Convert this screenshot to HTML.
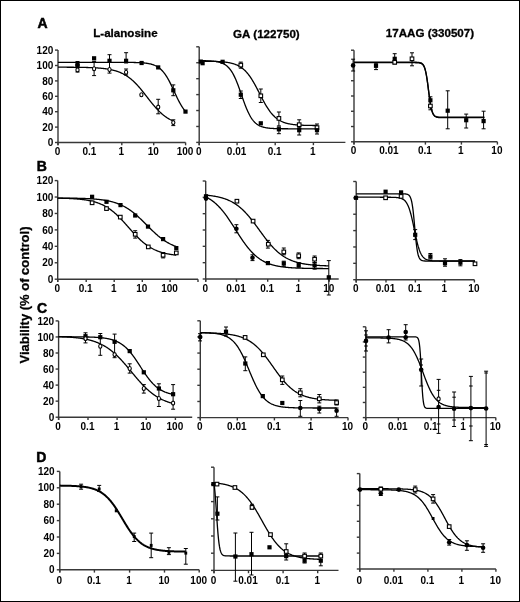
<!DOCTYPE html>
<html><head><meta charset="utf-8"><title>Viability curves</title>
<style>
html,body{margin:0;padding:0;background:#fff;}
body{width:520px;height:602px;overflow:hidden;}
svg{display:block;}
.a{stroke:#383838;stroke-width:1.4;fill:none;}
.c{stroke:#000;stroke-width:1.3;fill:none;}
.e{stroke:#000;stroke-width:1;fill:none;}
.mf{fill:#000;stroke:none;}
.mo{fill:#fff;stroke:#000;stroke-width:1.1;}
.t{font-family:"Liberation Sans",Arial,Helvetica,sans-serif;font-size:10px;font-weight:bold;fill:#000;}
.ti{font-family:"Liberation Sans",Arial,Helvetica,sans-serif;font-size:11.6px;font-weight:bold;fill:#000;stroke:#000;stroke-width:0.3px;}
.L{font-family:"Liberation Sans",Arial,Helvetica,sans-serif;font-size:14px;font-weight:bold;fill:#000;stroke:#000;stroke-width:0.5px;}
.yl{font-family:"Liberation Sans",Arial,Helvetica,sans-serif;font-size:13px;font-weight:bold;fill:#000;stroke:#000;stroke-width:0.3px;}
</style></head>
<body>
<svg width="520" height="602" viewBox="0 0 520 602">
<rect x="0" y="0" width="520" height="602" fill="#fff"/>
<rect x="0.5" y="0.5" width="519" height="601" fill="none" stroke="#000" stroke-width="1"/>
<text x="37.6" y="28.2" class="L">A</text>
<text x="36.8" y="170.5" class="L">B</text>
<text x="37.0" y="313.2" class="L">C</text>
<text x="36.3" y="461.8" class="L">D</text>
<text x="93.2" y="36.9" class="ti">L-alanosine</text>
<text x="233.1" y="37.6" class="ti">GA (122750)</text>
<text x="385.8" y="37.3" class="ti">17AAG (330507)</text>
<text transform="translate(28.7 295) rotate(-90)" class="yl" text-anchor="middle">Viability (% of control)</text>
<line x1="58" y1="50.1" x2="58" y2="145.3" class="a"/>
<line x1="57.4" y1="142.5" x2="185.6" y2="142.5" class="a"/>
<line x1="55" y1="142.50" x2="58" y2="142.50" class="a"/>
<text x="53.30" y="146.10" class="t" text-anchor="end">0</text>
<line x1="55" y1="127.10" x2="58" y2="127.10" class="a"/>
<text x="53.30" y="130.70" class="t" text-anchor="end">20</text>
<line x1="55" y1="111.70" x2="58" y2="111.70" class="a"/>
<text x="53.30" y="115.30" class="t" text-anchor="end">40</text>
<line x1="55" y1="96.30" x2="58" y2="96.30" class="a"/>
<text x="53.30" y="99.90" class="t" text-anchor="end">60</text>
<line x1="55" y1="80.90" x2="58" y2="80.90" class="a"/>
<text x="53.30" y="84.50" class="t" text-anchor="end">80</text>
<line x1="55" y1="65.50" x2="58" y2="65.50" class="a"/>
<text x="53.30" y="69.10" class="t" text-anchor="end">100</text>
<line x1="55" y1="50.10" x2="58" y2="50.10" class="a"/>
<text x="53.30" y="53.70" class="t" text-anchor="end">120</text>
<line x1="58" y1="142.5" x2="58" y2="145.3" class="a"/>
<text x="57.50" y="155.10" class="t" text-anchor="middle">0</text>
<line x1="89.9" y1="142.5" x2="89.9" y2="145.3" class="a"/>
<text x="89.40" y="155.10" class="t" text-anchor="middle">0.1</text>
<line x1="121.8" y1="142.5" x2="121.8" y2="145.3" class="a"/>
<text x="121.30" y="155.10" class="t" text-anchor="middle">1</text>
<line x1="153.7" y1="142.5" x2="153.7" y2="145.3" class="a"/>
<text x="153.20" y="155.10" class="t" text-anchor="middle">10</text>
<line x1="185.6" y1="142.5" x2="185.6" y2="145.3" class="a"/>
<text x="185.10" y="155.10" class="t" text-anchor="middle">100</text>
<path d="M58.0 62.33 L58.5 62.33 L59.0 62.33 L59.5 62.33 L60.0 62.33 L60.5 62.33 L61.0 62.33 L61.5 62.33 L62.0 62.33 L62.5 62.33 L63.0 62.33 L63.5 62.33 L64.0 62.33 L64.5 62.33 L65.0 62.33 L65.5 62.33 L66.0 62.33 L66.5 62.33 L67.0 62.33 L67.5 62.33 L68.0 62.33 L68.5 62.33 L69.0 62.33 L69.5 62.33 L70.0 62.33 L70.5 62.33 L71.0 62.33 L71.5 62.33 L72.0 62.33 L72.5 62.33 L73.0 62.33 L73.5 62.33 L74.0 62.33 L74.5 62.33 L75.0 62.33 L75.5 62.33 L76.0 62.33 L76.5 62.33 L77.0 62.33 L77.5 62.33 L78.0 62.33 L78.5 62.33 L79.0 62.33 L79.5 62.33 L80.0 62.33 L80.5 62.33 L81.0 62.33 L81.5 62.33 L82.0 62.33 L82.5 62.33 L83.0 62.33 L83.5 62.33 L84.0 62.33 L84.5 62.33 L85.0 62.33 L85.5 62.33 L86.0 62.33 L86.5 62.33 L87.0 62.33 L87.5 62.33 L88.0 62.33 L88.5 62.33 L89.0 62.33 L89.5 62.33 L90.0 62.33 L90.5 62.33 L91.0 62.33 L91.5 62.33 L92.0 62.33 L92.5 62.33 L93.0 62.33 L93.5 62.33 L94.0 62.33 L94.5 62.33 L95.0 62.33 L95.5 62.33 L96.0 62.33 L96.5 62.33 L97.0 62.33 L97.5 62.33 L98.0 62.33 L98.5 62.33 L99.0 62.33 L99.5 62.33 L100.0 62.33 L100.5 62.33 L101.0 62.33 L101.5 62.33 L102.0 62.33 L102.5 62.33 L103.0 62.33 L103.5 62.33 L104.0 62.33 L104.5 62.33 L105.0 62.33 L105.5 62.33 L106.0 62.33 L106.5 62.33 L107.0 62.33 L107.5 62.33 L108.0 62.33 L108.5 62.33 L109.0 62.33 L109.5 62.34 L110.0 62.34 L110.5 62.34 L111.0 62.34 L111.5 62.34 L112.0 62.34 L112.5 62.34 L113.0 62.34 L113.5 62.34 L114.0 62.34 L114.5 62.34 L115.0 62.34 L115.5 62.34 L116.0 62.34 L116.5 62.34 L117.0 62.34 L117.5 62.34 L118.0 62.34 L118.5 62.35 L119.0 62.35 L119.5 62.35 L120.0 62.35 L120.5 62.35 L121.0 62.35 L121.5 62.35 L122.0 62.36 L122.5 62.36 L123.0 62.36 L123.5 62.36 L124.0 62.36 L124.5 62.37 L125.0 62.37 L125.5 62.37 L126.0 62.38 L126.5 62.38 L127.0 62.38 L127.5 62.39 L128.0 62.39 L128.5 62.40 L129.0 62.40 L129.5 62.41 L130.0 62.41 L130.5 62.42 L131.0 62.43 L131.5 62.43 L132.0 62.44 L132.5 62.45 L133.0 62.46 L133.5 62.47 L134.0 62.48 L134.5 62.49 L135.0 62.50 L135.5 62.51 L136.0 62.53 L136.5 62.54 L137.0 62.56 L137.5 62.58 L138.0 62.60 L138.5 62.62 L139.0 62.64 L139.5 62.66 L140.0 62.69 L140.5 62.72 L141.0 62.74 L141.5 62.78 L142.0 62.81 L142.5 62.85 L143.0 62.89 L143.5 62.93 L144.0 62.97 L144.5 63.02 L145.0 63.08 L145.5 63.13 L146.0 63.19 L146.5 63.26 L147.0 63.33 L147.5 63.41 L148.0 63.49 L148.5 63.57 L149.0 63.67 L149.5 63.77 L150.0 63.88 L150.5 63.99 L151.0 64.12 L151.5 64.25 L152.0 64.39 L152.5 64.55 L153.0 64.71 L153.5 64.89 L154.0 65.07 L154.5 65.27 L155.0 65.49 L155.5 65.72 L156.0 65.96 L156.5 66.23 L157.0 66.50 L157.5 66.80 L158.0 67.12 L158.5 67.46 L159.0 67.81 L159.5 68.19 L160.0 68.60 L160.5 69.03 L161.0 69.48 L161.5 69.96 L162.0 70.47 L162.5 71.00 L163.0 71.57 L163.5 72.16 L164.0 72.78 L164.5 73.43 L165.0 74.12 L165.5 74.83 L166.0 75.58 L166.5 76.35 L167.0 77.16 L167.5 78.00 L168.0 78.87 L168.5 79.76 L169.0 80.68 L169.5 81.63 L170.0 82.60 L170.5 83.60 L171.0 84.61 L171.5 85.64 L172.0 86.69 L172.5 87.75 L173.0 88.82 L173.5 89.90 L174.0 90.99 L174.5 92.07 L175.0 93.15 L175.5 94.23 L176.0 95.30 L176.5 96.36 L177.0 97.41 L177.5 98.44 L178.0 99.45 L178.5 100.45 L179.0 101.42 L179.5 102.37 L180.0 103.29 L180.5 104.18 L181.0 105.05 L181.5 105.88 L182.0 106.69 L182.5 107.46 L183.0 108.21 L183.5 108.92 L184.0 109.60 L184.5 110.25 L185.0 110.87 L185.5 111.47" class="c"/>
<path d="M58.0 67.20 L58.5 67.20 L59.0 67.20 L59.5 67.20 L60.0 67.20 L60.5 67.20 L61.0 67.20 L61.5 67.21 L62.0 67.21 L62.5 67.21 L63.0 67.21 L63.5 67.21 L64.0 67.21 L64.5 67.22 L65.0 67.22 L65.5 67.22 L66.0 67.22 L66.5 67.22 L67.0 67.23 L67.5 67.23 L68.0 67.23 L68.5 67.24 L69.0 67.24 L69.5 67.24 L70.0 67.24 L70.5 67.25 L71.0 67.25 L71.5 67.25 L72.0 67.26 L72.5 67.26 L73.0 67.27 L73.5 67.27 L74.0 67.28 L74.5 67.28 L75.0 67.29 L75.5 67.29 L76.0 67.30 L76.5 67.30 L77.0 67.31 L77.5 67.31 L78.0 67.32 L78.5 67.33 L79.0 67.33 L79.5 67.34 L80.0 67.35 L80.5 67.36 L81.0 67.36 L81.5 67.37 L82.0 67.38 L82.5 67.39 L83.0 67.40 L83.5 67.41 L84.0 67.42 L84.5 67.43 L85.0 67.44 L85.5 67.46 L86.0 67.47 L86.5 67.48 L87.0 67.50 L87.5 67.51 L88.0 67.52 L88.5 67.54 L89.0 67.56 L89.5 67.57 L90.0 67.59 L90.5 67.61 L91.0 67.63 L91.5 67.65 L92.0 67.67 L92.5 67.69 L93.0 67.72 L93.5 67.74 L94.0 67.76 L94.5 67.79 L95.0 67.82 L95.5 67.85 L96.0 67.88 L96.5 67.91 L97.0 67.94 L97.5 67.97 L98.0 68.01 L98.5 68.05 L99.0 68.08 L99.5 68.12 L100.0 68.16 L100.5 68.21 L101.0 68.25 L101.5 68.30 L102.0 68.35 L102.5 68.40 L103.0 68.45 L103.5 68.51 L104.0 68.57 L104.5 68.63 L105.0 68.69 L105.5 68.76 L106.0 68.83 L106.5 68.90 L107.0 68.97 L107.5 69.05 L108.0 69.13 L108.5 69.21 L109.0 69.30 L109.5 69.39 L110.0 69.49 L110.5 69.58 L111.0 69.69 L111.5 69.79 L112.0 69.90 L112.5 70.02 L113.0 70.14 L113.5 70.27 L114.0 70.40 L114.5 70.53 L115.0 70.67 L115.5 70.82 L116.0 70.97 L116.5 71.12 L117.0 71.29 L117.5 71.46 L118.0 71.63 L118.5 71.82 L119.0 72.00 L119.5 72.20 L120.0 72.40 L120.5 72.62 L121.0 72.83 L121.5 73.06 L122.0 73.29 L122.5 73.54 L123.0 73.79 L123.5 74.05 L124.0 74.32 L124.5 74.59 L125.0 74.88 L125.5 75.17 L126.0 75.48 L126.5 75.80 L127.0 76.12 L127.5 76.45 L128.0 76.80 L128.5 77.16 L129.0 77.52 L129.5 77.90 L130.0 78.28 L130.5 78.68 L131.0 79.09 L131.5 79.51 L132.0 79.94 L132.5 80.38 L133.0 80.83 L133.5 81.29 L134.0 81.76 L134.5 82.25 L135.0 82.74 L135.5 83.24 L136.0 83.76 L136.5 84.28 L137.0 84.81 L137.5 85.36 L138.0 85.91 L138.5 86.47 L139.0 87.04 L139.5 87.62 L140.0 88.20 L140.5 88.79 L141.0 89.39 L141.5 90.00 L142.0 90.61 L142.5 91.23 L143.0 91.86 L143.5 92.48 L144.0 93.12 L144.5 93.75 L145.0 94.39 L145.5 95.03 L146.0 95.67 L146.5 96.32 L147.0 96.96 L147.5 97.60 L148.0 98.25 L148.5 98.89 L149.0 99.53 L149.5 100.17 L150.0 100.80 L150.5 101.43 L151.0 102.06 L151.5 102.68 L152.0 103.30 L152.5 103.91 L153.0 104.51 L153.5 105.11 L154.0 105.70 L154.5 106.29 L155.0 106.86 L155.5 107.43 L156.0 107.99 L156.5 108.54 L157.0 109.08 L157.5 109.61 L158.0 110.13 L158.5 110.64 L159.0 111.14 L159.5 111.63 L160.0 112.11 L160.5 112.58 L161.0 113.03 L161.5 113.48 L162.0 113.92 L162.5 114.35 L163.0 114.76 L163.5 115.17 L164.0 115.56 L164.5 115.94 L165.0 116.32 L165.5 116.68 L166.0 117.03 L166.5 117.37 L167.0 117.70 L167.5 118.03 L168.0 118.34 L168.5 118.64 L169.0 118.93 L169.5 119.22 L170.0 119.49 L170.5 119.76 L171.0 120.01 L171.5 120.26 L172.0 120.50 L172.5 120.73 L173.0 120.96 L173.3 121.09" class="c"/>
<line x1="77.5" y1="61.5" x2="77.5" y2="72" class="e"/>
<line x1="75.5" y1="61.5" x2="79.5" y2="61.5" class="e"/>
<line x1="75.5" y1="72" x2="79.5" y2="72" class="e"/>
<line x1="94.1" y1="61.4" x2="94.1" y2="75.6" class="e"/>
<line x1="92.1" y1="61.4" x2="96.1" y2="61.4" class="e"/>
<line x1="92.1" y1="75.6" x2="96.1" y2="75.6" class="e"/>
<line x1="109.5" y1="54.7" x2="109.5" y2="73.1" class="e"/>
<line x1="107.5" y1="54.7" x2="111.5" y2="54.7" class="e"/>
<line x1="107.5" y1="73.1" x2="111.5" y2="73.1" class="e"/>
<line x1="126.1" y1="52.7" x2="126.1" y2="63" class="e"/>
<line x1="124.1" y1="52.7" x2="128.1" y2="52.7" class="e"/>
<line x1="124.1" y1="63" x2="128.1" y2="63" class="e"/>
<line x1="126.1" y1="69" x2="126.1" y2="75" class="e"/>
<line x1="124.1" y1="69" x2="128.1" y2="69" class="e"/>
<line x1="124.1" y1="75" x2="128.1" y2="75" class="e"/>
<line x1="158.2" y1="99.3" x2="158.2" y2="113.8" class="e"/>
<line x1="156.2" y1="99.3" x2="160.2" y2="99.3" class="e"/>
<line x1="156.2" y1="113.8" x2="160.2" y2="113.8" class="e"/>
<line x1="173.3" y1="84.9" x2="173.3" y2="95.7" class="e"/>
<line x1="171.3" y1="84.9" x2="175.3" y2="84.9" class="e"/>
<line x1="171.3" y1="95.7" x2="175.3" y2="95.7" class="e"/>
<line x1="173.3" y1="119.8" x2="173.3" y2="125.6" class="e"/>
<line x1="171.3" y1="119.8" x2="175.3" y2="119.8" class="e"/>
<line x1="171.3" y1="125.6" x2="175.3" y2="125.6" class="e"/>
<rect x="75.40" y="62.10" width="4.2" height="4.2" class="mf"/>
<rect x="75.40" y="63.90" width="4.2" height="4.2" class="mf"/>
<rect x="92.00" y="56.20" width="4.2" height="4.2" class="mf"/>
<rect x="107.40" y="58.70" width="4.2" height="4.2" class="mf"/>
<rect x="124.00" y="58.70" width="4.2" height="4.2" class="mf"/>
<rect x="139.50" y="60.90" width="4.2" height="4.2" class="mf"/>
<rect x="156.10" y="65.30" width="4.2" height="4.2" class="mf"/>
<rect x="171.20" y="88.20" width="4.2" height="4.2" class="mf"/>
<rect x="183.40" y="109.50" width="4.2" height="4.2" class="mf"/>
<ellipse cx="77.5" cy="69.9" rx="1.6" ry="2.0" class="mo"/>
<ellipse cx="94.1" cy="68.8" rx="1.6" ry="2.0" class="mo"/>
<ellipse cx="109.5" cy="69.5" rx="1.6" ry="2.0" class="mo"/>
<ellipse cx="126.1" cy="72.2" rx="1.6" ry="2.0" class="mo"/>
<ellipse cx="141.4" cy="94.7" rx="1.6" ry="2.0" class="mo"/>
<ellipse cx="158.2" cy="107.1" rx="1.6" ry="2.0" class="mo"/>
<ellipse cx="173.3" cy="122.6" rx="1.6" ry="2.0" class="mo"/>
<line x1="199.2" y1="46.8" x2="199.2" y2="145.20000000000002" class="a"/>
<line x1="198.6" y1="142.4" x2="345.4" y2="142.4" class="a"/>
<line x1="196.2" y1="142.40" x2="199.2" y2="142.40" class="a"/>
<line x1="196.2" y1="126.47" x2="199.2" y2="126.47" class="a"/>
<line x1="196.2" y1="110.53" x2="199.2" y2="110.53" class="a"/>
<line x1="196.2" y1="94.60" x2="199.2" y2="94.60" class="a"/>
<line x1="196.2" y1="78.67" x2="199.2" y2="78.67" class="a"/>
<line x1="196.2" y1="62.73" x2="199.2" y2="62.73" class="a"/>
<line x1="196.2" y1="46.80" x2="199.2" y2="46.80" class="a"/>
<line x1="199.2" y1="142.4" x2="199.2" y2="145.20000000000002" class="a"/>
<text x="198.70" y="155.00" class="t" text-anchor="middle">0</text>
<line x1="237.1" y1="142.4" x2="237.1" y2="145.20000000000002" class="a"/>
<text x="236.60" y="155.00" class="t" text-anchor="middle">0.01</text>
<line x1="275.2" y1="142.4" x2="275.2" y2="145.20000000000002" class="a"/>
<text x="274.70" y="155.00" class="t" text-anchor="middle">0.1</text>
<line x1="313.4" y1="142.4" x2="313.4" y2="145.20000000000002" class="a"/>
<text x="312.90" y="155.00" class="t" text-anchor="middle">1</text>
<path d="M199.2 61.19 L199.7 61.19 L200.2 61.19 L200.7 61.19 L201.2 61.20 L201.7 61.20 L202.2 61.20 L202.7 61.21 L203.2 61.21 L203.7 61.22 L204.2 61.22 L204.7 61.23 L205.2 61.23 L205.7 61.24 L206.2 61.24 L206.7 61.25 L207.2 61.26 L207.7 61.26 L208.2 61.27 L208.7 61.28 L209.2 61.29 L209.7 61.30 L210.2 61.30 L210.7 61.31 L211.2 61.33 L211.7 61.34 L212.2 61.35 L212.7 61.36 L213.2 61.38 L213.7 61.39 L214.2 61.41 L214.7 61.42 L215.2 61.44 L215.7 61.46 L216.2 61.48 L216.7 61.50 L217.2 61.52 L217.7 61.54 L218.2 61.57 L218.7 61.60 L219.2 61.62 L219.7 61.65 L220.2 61.69 L220.7 61.72 L221.2 61.75 L221.7 61.79 L222.2 61.83 L222.7 61.88 L223.2 61.92 L223.7 61.97 L224.2 62.02 L224.7 62.07 L225.2 62.13 L225.7 62.19 L226.2 62.26 L226.7 62.33 L227.2 62.40 L227.7 62.47 L228.2 62.56 L228.7 62.64 L229.2 62.73 L229.7 62.83 L230.2 62.93 L230.7 63.04 L231.2 63.16 L231.7 63.28 L232.2 63.41 L232.7 63.55 L233.2 63.69 L233.7 63.84 L234.2 64.00 L234.7 64.17 L235.2 64.35 L235.7 64.55 L236.2 64.75 L236.7 64.96 L237.2 65.18 L237.7 65.42 L238.2 65.67 L238.7 65.93 L239.2 66.20 L239.7 66.49 L240.2 66.80 L240.7 67.12 L241.2 67.46 L241.7 67.81 L242.2 68.18 L242.7 68.57 L243.2 68.98 L243.7 69.41 L244.2 69.86 L244.7 70.33 L245.2 70.81 L245.7 71.32 L246.2 71.85 L246.7 72.41 L247.2 72.98 L247.7 73.58 L248.2 74.20 L248.7 74.84 L249.2 75.51 L249.7 76.20 L250.2 76.91 L250.7 77.64 L251.2 78.40 L251.7 79.18 L252.2 79.98 L252.7 80.79 L253.2 81.63 L253.7 82.49 L254.2 83.36 L254.7 84.26 L255.2 85.16 L255.7 86.08 L256.2 87.02 L256.7 87.96 L257.2 88.92 L257.7 89.88 L258.2 90.85 L258.7 91.82 L259.2 92.80 L259.7 93.78 L260.2 94.75 L260.7 95.73 L261.2 96.70 L261.7 97.66 L262.2 98.62 L262.7 99.56 L263.2 100.50 L263.7 101.42 L264.2 102.33 L264.7 103.23 L265.2 104.10 L265.7 104.96 L266.2 105.80 L266.7 106.63 L267.2 107.43 L267.7 108.21 L268.2 108.97 L268.7 109.70 L269.2 110.42 L269.7 111.11 L270.2 111.78 L270.7 112.43 L271.2 113.05 L271.7 113.65 L272.2 114.23 L272.7 114.79 L273.2 115.32 L273.7 115.83 L274.2 116.32 L274.7 116.80 L275.2 117.25 L275.7 117.68 L276.2 118.09 L276.7 118.48 L277.2 118.85 L277.7 119.21 L278.2 119.55 L278.7 119.87 L279.2 120.18 L279.7 120.47 L280.2 120.75 L280.7 121.02 L281.2 121.27 L281.7 121.50 L282.2 121.73 L282.7 121.94 L283.2 122.15 L283.7 122.34 L284.2 122.52 L284.7 122.69 L285.2 122.85 L285.7 123.01 L286.2 123.15 L286.7 123.29 L287.2 123.42 L287.7 123.54 L288.2 123.66 L288.7 123.77 L289.2 123.87 L289.7 123.97 L290.2 124.06 L290.7 124.15 L291.2 124.23 L291.7 124.31 L292.2 124.38 L292.7 124.45 L293.2 124.52 L293.7 124.58 L294.2 124.64 L294.7 124.69 L295.2 124.74 L295.7 124.79 L296.2 124.84 L296.7 124.88 L297.2 124.92 L297.7 124.96 L298.2 125.00 L298.7 125.03 L299.2 125.06 L299.7 125.09 L300.2 125.12 L300.7 125.15 L301.2 125.17 L301.7 125.20 L302.2 125.22 L302.7 125.24 L303.2 125.26 L303.7 125.28 L304.2 125.30 L304.7 125.31 L305.2 125.33 L305.7 125.34 L306.2 125.36 L306.7 125.37 L307.2 125.38 L307.7 125.39 L308.2 125.40 L308.7 125.41 L309.2 125.42 L309.7 125.43 L310.2 125.44 L310.7 125.45 L311.2 125.46 L311.7 125.46 L312.2 125.47 L312.7 125.48 L313.2 125.48 L313.7 125.49 L314.2 125.49 L314.7 125.50 L315.2 125.50 L315.7 125.51 L316.2 125.51 L316.7 125.52 L317.0 125.52" class="c"/>
<path d="M199.2 60.66 L199.7 60.66 L200.2 60.67 L200.7 60.67 L201.2 60.68 L201.7 60.68 L202.2 60.69 L202.7 60.70 L203.2 60.71 L203.7 60.72 L204.2 60.73 L204.7 60.74 L205.2 60.75 L205.7 60.76 L206.2 60.78 L206.7 60.79 L207.2 60.81 L207.7 60.83 L208.2 60.85 L208.7 60.87 L209.2 60.89 L209.7 60.92 L210.2 60.95 L210.7 60.98 L211.2 61.01 L211.7 61.05 L212.2 61.09 L212.7 61.13 L213.2 61.17 L213.7 61.22 L214.2 61.28 L214.7 61.34 L215.2 61.40 L215.7 61.47 L216.2 61.55 L216.7 61.63 L217.2 61.72 L217.7 61.82 L218.2 61.92 L218.7 62.04 L219.2 62.16 L219.7 62.29 L220.2 62.44 L220.7 62.59 L221.2 62.76 L221.7 62.95 L222.2 63.15 L222.7 63.36 L223.2 63.60 L223.7 63.85 L224.2 64.12 L224.7 64.41 L225.2 64.73 L225.7 65.07 L226.2 65.43 L226.7 65.82 L227.2 66.25 L227.7 66.70 L228.2 67.19 L228.7 67.71 L229.2 68.26 L229.7 68.85 L230.2 69.49 L230.7 70.16 L231.2 70.88 L231.7 71.63 L232.2 72.44 L232.7 73.29 L233.2 74.18 L233.7 75.12 L234.2 76.11 L234.7 77.15 L235.2 78.23 L235.7 79.36 L236.2 80.53 L236.7 81.74 L237.2 82.99 L237.7 84.28 L238.2 85.60 L238.7 86.95 L239.2 88.33 L239.7 89.73 L240.2 91.14 L240.7 92.57 L241.2 94.01 L241.7 95.45 L242.2 96.89 L242.7 98.32 L243.2 99.73 L243.7 101.13 L244.2 102.51 L244.7 103.86 L245.2 105.18 L245.7 106.47 L246.2 107.72 L246.7 108.93 L247.2 110.09 L247.7 111.22 L248.2 112.30 L248.7 113.33 L249.2 114.32 L249.7 115.26 L250.2 116.15 L250.7 117.00 L251.2 117.80 L251.7 118.56 L252.2 119.27 L252.7 119.94 L253.2 120.57 L253.7 121.17 L254.2 121.72 L254.7 122.24 L255.2 122.72 L255.7 123.17 L256.2 123.59 L256.7 123.99 L257.2 124.35 L257.7 124.69 L258.2 125.00 L258.7 125.30 L259.2 125.57 L259.7 125.82 L260.2 126.05 L260.7 126.26 L261.2 126.46 L261.7 126.65 L262.2 126.81 L262.7 126.97 L263.2 127.12 L263.7 127.25 L264.2 127.37 L264.7 127.49 L265.2 127.59 L265.7 127.69 L266.2 127.78 L266.7 127.86 L267.2 127.93 L267.7 128.00 L268.2 128.07 L268.7 128.13 L269.2 128.18 L269.7 128.23 L270.2 128.28 L270.7 128.32 L271.2 128.36 L271.7 128.39 L272.2 128.43 L272.7 128.46 L273.2 128.48 L273.7 128.51 L274.2 128.53 L274.7 128.55 L275.2 128.57 L275.7 128.59 L276.2 128.61 L276.7 128.63 L277.2 128.64 L277.7 128.65 L278.2 128.66 L278.7 128.68 L279.2 128.69 L279.7 128.70 L280.2 128.70 L280.7 128.71 L281.2 128.72 L281.7 128.73 L282.2 128.73 L282.7 128.74 L283.2 128.74 L283.7 128.75 L284.2 128.75 L284.7 128.76 L285.2 128.76 L285.7 128.76 L286.2 128.77 L286.7 128.77 L287.2 128.77 L287.7 128.77 L288.2 128.78 L288.7 128.78 L289.2 128.78 L289.7 128.78 L290.2 128.78 L290.7 128.78 L291.2 128.79 L291.7 128.79 L292.2 128.79 L292.7 128.79 L293.2 128.79 L293.7 128.79 L294.2 128.79 L294.7 128.79 L295.2 128.79 L295.7 128.79 L296.2 128.79 L296.7 128.80 L297.2 128.80 L297.7 128.80 L298.2 128.80 L298.7 128.80 L299.2 128.80 L299.7 128.80 L300.2 128.80 L300.7 128.80 L301.2 128.80 L301.7 128.80 L302.2 128.80 L302.7 128.80 L303.2 128.80 L303.7 128.80 L304.2 128.80 L304.7 128.80 L305.2 128.80 L305.7 128.80 L306.2 128.80 L306.7 128.80 L307.2 128.80 L307.7 128.80 L308.2 128.80 L308.7 128.80 L309.2 128.80 L309.7 128.80 L310.2 128.80 L310.7 128.80 L311.2 128.80 L311.7 128.80 L312.2 128.80 L312.7 128.80 L313.2 128.80 L313.7 128.80 L314.2 128.80 L314.7 128.80 L315.2 128.80 L315.7 128.80 L316.2 128.80 L316.7 128.80 L317.0 128.80" class="c"/>
<line x1="240.8" y1="62.1" x2="240.8" y2="68.2" class="e"/>
<line x1="238.8" y1="62.1" x2="242.8" y2="62.1" class="e"/>
<line x1="238.8" y1="68.2" x2="242.8" y2="68.2" class="e"/>
<line x1="240.8" y1="91" x2="240.8" y2="98.5" class="e"/>
<line x1="238.8" y1="91" x2="242.8" y2="91" class="e"/>
<line x1="238.8" y1="98.5" x2="242.8" y2="98.5" class="e"/>
<line x1="260.8" y1="89" x2="260.8" y2="102.5" class="e"/>
<line x1="258.8" y1="89" x2="262.8" y2="89" class="e"/>
<line x1="258.8" y1="102.5" x2="262.8" y2="102.5" class="e"/>
<line x1="278.9" y1="112" x2="278.9" y2="125.9" class="e"/>
<line x1="276.9" y1="112" x2="280.9" y2="112" class="e"/>
<line x1="276.9" y1="125.9" x2="280.9" y2="125.9" class="e"/>
<line x1="278.9" y1="127" x2="278.9" y2="133.7" class="e"/>
<line x1="276.9" y1="127" x2="280.9" y2="127" class="e"/>
<line x1="276.9" y1="133.7" x2="280.9" y2="133.7" class="e"/>
<line x1="299.2" y1="119.8" x2="299.2" y2="128" class="e"/>
<line x1="297.2" y1="119.8" x2="301.2" y2="119.8" class="e"/>
<line x1="297.2" y1="128" x2="301.2" y2="128" class="e"/>
<line x1="299.2" y1="128" x2="299.2" y2="135" class="e"/>
<line x1="297.2" y1="128" x2="301.2" y2="128" class="e"/>
<line x1="297.2" y1="135" x2="301.2" y2="135" class="e"/>
<line x1="317" y1="124" x2="317" y2="134" class="e"/>
<line x1="315" y1="124" x2="319" y2="124" class="e"/>
<line x1="315" y1="134" x2="319" y2="134" class="e"/>
<rect x="198.70" y="59.50" width="4.2" height="4.2" class="mf"/>
<rect x="200.50" y="61.10" width="4.2" height="4.2" class="mf"/>
<rect x="220.50" y="59.70" width="4.2" height="4.2" class="mf"/>
<rect x="239.00" y="63.30" width="3.6" height="3.6" class="mo"/>
<rect x="238.70" y="92.60" width="4.2" height="4.2" class="mf"/>
<rect x="259.00" y="94.00" width="3.6" height="3.6" class="mo"/>
<rect x="258.70" y="121.20" width="4.2" height="4.2" class="mf"/>
<rect x="277.10" y="116.60" width="3.6" height="3.6" class="mo"/>
<rect x="276.80" y="127.20" width="4.2" height="4.2" class="mf"/>
<rect x="297.40" y="122.90" width="3.6" height="3.6" class="mo"/>
<rect x="297.10" y="128.10" width="4.2" height="4.2" class="mf"/>
<rect x="315.20" y="125.80" width="3.6" height="3.6" class="mo"/>
<rect x="314.90" y="128.10" width="4.2" height="4.2" class="mf"/>
<line x1="354" y1="50.2" x2="354" y2="144.60000000000002" class="a"/>
<line x1="353.4" y1="141.8" x2="497.4" y2="141.8" class="a"/>
<line x1="351" y1="141.80" x2="354" y2="141.80" class="a"/>
<line x1="351" y1="126.53" x2="354" y2="126.53" class="a"/>
<line x1="351" y1="111.27" x2="354" y2="111.27" class="a"/>
<line x1="351" y1="96.00" x2="354" y2="96.00" class="a"/>
<line x1="351" y1="80.73" x2="354" y2="80.73" class="a"/>
<line x1="351" y1="65.47" x2="354" y2="65.47" class="a"/>
<line x1="351" y1="50.20" x2="354" y2="50.20" class="a"/>
<line x1="354" y1="141.8" x2="354" y2="144.60000000000002" class="a"/>
<text x="353.50" y="154.40" class="t" text-anchor="middle">0</text>
<line x1="389.4" y1="141.8" x2="389.4" y2="144.60000000000002" class="a"/>
<text x="388.90" y="154.40" class="t" text-anchor="middle">0.01</text>
<line x1="425.4" y1="141.8" x2="425.4" y2="144.60000000000002" class="a"/>
<text x="424.90" y="154.40" class="t" text-anchor="middle">0.1</text>
<line x1="461.4" y1="141.8" x2="461.4" y2="144.60000000000002" class="a"/>
<text x="460.90" y="154.40" class="t" text-anchor="middle">1</text>
<line x1="497.4" y1="141.8" x2="497.4" y2="144.60000000000002" class="a"/>
<text x="496.90" y="154.40" class="t" text-anchor="middle">10</text>
<path d="M354.0 62.22 L354.5 62.22 L355.0 62.22 L355.5 62.22 L356.0 62.22 L356.5 62.22 L357.0 62.22 L357.5 62.22 L358.0 62.22 L358.5 62.22 L359.0 62.22 L359.5 62.22 L360.0 62.22 L360.5 62.22 L361.0 62.22 L361.5 62.22 L362.0 62.22 L362.5 62.22 L363.0 62.22 L363.5 62.22 L364.0 62.22 L364.5 62.22 L365.0 62.22 L365.5 62.22 L366.0 62.22 L366.5 62.22 L367.0 62.22 L367.5 62.22 L368.0 62.22 L368.5 62.22 L369.0 62.22 L369.5 62.22 L370.0 62.22 L370.5 62.22 L371.0 62.22 L371.5 62.22 L372.0 62.22 L372.5 62.22 L373.0 62.22 L373.5 62.22 L374.0 62.22 L374.5 62.22 L375.0 62.22 L375.5 62.22 L376.0 62.22 L376.5 62.22 L377.0 62.22 L377.5 62.22 L378.0 62.22 L378.5 62.22 L379.0 62.22 L379.5 62.22 L380.0 62.22 L380.5 62.22 L381.0 62.22 L381.5 62.22 L382.0 62.22 L382.5 62.22 L383.0 62.22 L383.5 62.22 L384.0 62.22 L384.5 62.22 L385.0 62.22 L385.5 62.22 L386.0 62.22 L386.5 62.22 L387.0 62.22 L387.5 62.22 L388.0 62.22 L388.5 62.22 L389.0 62.22 L389.5 62.22 L390.0 62.22 L390.5 62.22 L391.0 62.22 L391.5 62.22 L392.0 62.22 L392.5 62.22 L393.0 62.22 L393.5 62.22 L394.0 62.22 L394.5 62.22 L395.0 62.22 L395.5 62.22 L396.0 62.22 L396.5 62.22 L397.0 62.22 L397.5 62.22 L398.0 62.22 L398.5 62.22 L399.0 62.22 L399.5 62.22 L400.0 62.22 L400.5 62.22 L401.0 62.22 L401.5 62.22 L402.0 62.22 L402.5 62.22 L403.0 62.22 L403.5 62.22 L404.0 62.22 L404.5 62.22 L405.0 62.22 L405.5 62.22 L406.0 62.22 L406.5 62.22 L407.0 62.22 L407.5 62.22 L408.0 62.22 L408.5 62.22 L409.0 62.22 L409.5 62.22 L410.0 62.22 L410.5 62.22 L411.0 62.22 L411.5 62.22 L412.0 62.22 L412.5 62.22 L413.0 62.22 L413.5 62.23 L414.0 62.23 L414.5 62.23 L415.0 62.24 L415.5 62.25 L416.0 62.26 L416.5 62.27 L417.0 62.29 L417.5 62.31 L418.0 62.35 L418.5 62.39 L419.0 62.45 L419.5 62.53 L420.0 62.63 L420.5 62.77 L421.0 62.95 L421.5 63.19 L422.0 63.50 L422.5 63.92 L423.0 64.46 L423.5 65.17 L424.0 66.08 L424.5 67.25 L425.0 68.73 L425.5 70.57 L426.0 72.82 L426.5 75.50 L427.0 78.61 L427.5 82.09 L428.0 85.87 L428.5 89.80 L429.0 93.72 L429.5 97.48 L430.0 100.96 L430.5 104.05 L431.0 106.71 L431.5 108.93 L432.0 110.76 L432.5 112.22 L433.0 113.38 L433.5 114.29 L434.0 114.99 L434.5 115.52 L435.0 115.93 L435.5 116.24 L436.0 116.48 L436.5 116.66 L437.0 116.79 L437.5 116.90 L438.0 116.97 L438.5 117.03 L439.0 117.07 L439.5 117.10 L440.0 117.13 L440.5 117.15 L441.0 117.16 L441.5 117.17 L442.0 117.18 L442.5 117.18 L443.0 117.19 L443.5 117.19 L444.0 117.19 L444.5 117.20 L445.0 117.20 L445.5 117.20 L446.0 117.20 L446.5 117.20 L447.0 117.20 L447.5 117.20 L448.0 117.20 L448.5 117.20 L449.0 117.20 L449.5 117.20 L450.0 117.20 L450.5 117.20 L451.0 117.20 L451.5 117.20 L452.0 117.20 L452.5 117.20 L453.0 117.20 L453.5 117.20 L454.0 117.20 L454.5 117.20 L455.0 117.20 L455.5 117.20 L456.0 117.20 L456.5 117.20 L457.0 117.20 L457.5 117.20 L458.0 117.20 L458.5 117.20 L459.0 117.20 L459.5 117.20 L460.0 117.20 L460.5 117.20 L461.0 117.20 L461.5 117.20 L462.0 117.20 L462.5 117.20 L463.0 117.20 L463.5 117.20 L464.0 117.20 L464.5 117.20 L465.0 117.20 L465.5 117.20 L466.0 117.20 L466.5 117.20 L467.0 117.20 L467.5 117.20 L468.0 117.20 L468.5 117.20 L469.0 117.20 L469.5 117.20 L470.0 117.20 L470.5 117.20 L471.0 117.20 L471.5 117.20 L472.0 117.20 L472.5 117.20 L473.0 117.20 L473.5 117.20 L474.0 117.20 L474.5 117.20 L475.0 117.20 L475.5 117.20 L476.0 117.20 L476.5 117.20 L477.0 117.20 L477.5 117.20 L478.0 117.20 L478.5 117.20 L479.0 117.20 L479.5 117.20 L480.0 117.20 L480.5 117.20 L481.0 117.20 L481.5 117.20 L482.0 117.20 L482.5 117.20 L483.0 117.20 L483.5 117.20 L484.0 117.20 L484.4 117.20" class="c"/>
<path d="M354.0 62.70 L354.5 62.70 L355.0 62.70 L355.5 62.70 L356.0 62.70 L356.5 62.70 L357.0 62.70 L357.5 62.70 L358.0 62.70 L358.5 62.70 L359.0 62.70 L359.5 62.70 L360.0 62.70 L360.5 62.70 L361.0 62.70 L361.5 62.70 L362.0 62.70 L362.5 62.70 L363.0 62.70 L363.5 62.70 L364.0 62.70 L364.5 62.70 L365.0 62.70 L365.5 62.70 L366.0 62.70 L366.5 62.70 L367.0 62.70 L367.5 62.70 L368.0 62.70 L368.5 62.70 L369.0 62.70 L369.5 62.70 L370.0 62.70 L370.5 62.70 L371.0 62.70 L371.5 62.70 L372.0 62.70 L372.5 62.70 L373.0 62.70 L373.5 62.70 L374.0 62.70 L374.5 62.70 L375.0 62.70 L375.5 62.70 L376.0 62.70 L376.5 62.70 L377.0 62.70 L377.5 62.70 L378.0 62.70 L378.5 62.70 L379.0 62.70 L379.5 62.70 L380.0 62.70 L380.5 62.70 L381.0 62.70 L381.5 62.70 L382.0 62.70 L382.5 62.70 L383.0 62.70 L383.5 62.70 L384.0 62.70 L384.5 62.70 L385.0 62.70 L385.5 62.70 L386.0 62.70 L386.5 62.70 L387.0 62.70 L387.5 62.70 L388.0 62.70 L388.5 62.70 L389.0 62.70 L389.5 62.70 L390.0 62.70 L390.5 62.70 L391.0 62.70 L391.5 62.70 L392.0 62.70 L392.5 62.70 L393.0 62.70 L393.5 62.70 L394.0 62.70 L394.5 62.70 L395.0 62.70 L395.5 62.70 L396.0 62.70 L396.5 62.70 L397.0 62.70 L397.5 62.70 L398.0 62.70 L398.5 62.70 L399.0 62.70 L399.5 62.70 L400.0 62.70 L400.5 62.70 L401.0 62.70 L401.5 62.70 L402.0 62.70 L402.5 62.70 L403.0 62.70 L403.5 62.70 L404.0 62.70 L404.5 62.70 L405.0 62.70 L405.5 62.70 L406.0 62.70 L406.5 62.70 L407.0 62.70 L407.5 62.70 L408.0 62.70 L408.5 62.70 L409.0 62.70 L409.5 62.70 L410.0 62.70 L410.5 62.70 L411.0 62.70 L411.5 62.70 L412.0 62.70 L412.5 62.70 L413.0 62.70 L413.5 62.71 L414.0 62.71 L414.5 62.71 L415.0 62.72 L415.5 62.73 L416.0 62.74 L416.5 62.75 L417.0 62.77 L417.5 62.80 L418.0 62.83 L418.5 62.87 L419.0 62.93 L419.5 63.01 L420.0 63.11 L420.5 63.25 L421.0 63.43 L421.5 63.67 L422.0 63.99 L422.5 64.41 L423.0 64.95 L423.5 65.66 L424.0 66.58 L424.5 67.76 L425.0 69.24 L425.5 71.09 L426.0 73.34 L426.5 76.03 L427.0 79.14 L427.5 82.63 L428.0 86.41 L428.5 90.33 L429.0 94.25 L429.5 98.01 L430.0 101.48 L430.5 104.56 L431.0 107.21 L431.5 109.43 L432.0 111.25 L432.5 112.70 L433.0 113.86 L433.5 114.76 L434.0 115.46 L434.5 115.99 L435.0 116.40 L435.5 116.71 L436.0 116.94 L436.5 117.12 L437.0 117.26 L437.5 117.36 L438.0 117.43 L438.5 117.49 L439.0 117.53 L439.5 117.57 L440.0 117.59 L440.5 117.61 L441.0 117.62 L441.5 117.63 L442.0 117.64 L442.5 117.65 L443.0 117.65 L443.5 117.65 L444.0 117.66 L444.5 117.66 L445.0 117.66 L445.5 117.66 L446.0 117.66 L446.5 117.66 L447.0 117.66 L447.5 117.66 L448.0 117.66 L448.5 117.66 L449.0 117.66 L449.5 117.66 L450.0 117.66 L450.5 117.66 L451.0 117.66 L451.5 117.66 L452.0 117.66 L452.5 117.66 L453.0 117.66 L453.5 117.66 L454.0 117.66 L454.5 117.66 L455.0 117.66 L455.5 117.66 L456.0 117.66 L456.5 117.66 L457.0 117.66 L457.5 117.66 L458.0 117.66 L458.5 117.66 L459.0 117.66 L459.5 117.66 L460.0 117.66 L460.5 117.66 L461.0 117.66 L461.5 117.66 L462.0 117.66 L462.5 117.66 L463.0 117.66 L463.5 117.66 L464.0 117.66 L464.5 117.66 L465.0 117.66 L465.5 117.66 L466.0 117.66 L466.5 117.66 L467.0 117.66 L467.5 117.66 L468.0 117.66 L468.5 117.66 L469.0 117.66 L469.5 117.66 L470.0 117.66 L470.5 117.66 L471.0 117.66 L471.5 117.66 L472.0 117.66 L472.5 117.66 L473.0 117.66 L473.5 117.66 L474.0 117.66 L474.5 117.66 L475.0 117.66 L475.5 117.66 L476.0 117.66 L476.5 117.66 L477.0 117.66 L477.5 117.66 L478.0 117.66 L478.5 117.66 L479.0 117.66 L479.5 117.66 L480.0 117.66 L480.5 117.66 L481.0 117.66 L481.5 117.66 L482.0 117.66 L482.5 117.66 L483.0 117.66 L483.5 117.66 L484.0 117.66 L484.4 117.66" class="c"/>
<line x1="353.1" y1="59.2" x2="353.1" y2="71" class="e"/>
<line x1="351.1" y1="59.2" x2="355.1" y2="59.2" class="e"/>
<line x1="351.1" y1="71" x2="355.1" y2="71" class="e"/>
<line x1="376" y1="63.2" x2="376" y2="69.6" class="e"/>
<line x1="374" y1="63.2" x2="378" y2="63.2" class="e"/>
<line x1="374" y1="69.6" x2="378" y2="69.6" class="e"/>
<line x1="394.7" y1="53.7" x2="394.7" y2="64" class="e"/>
<line x1="392.7" y1="53.7" x2="396.7" y2="53.7" class="e"/>
<line x1="392.7" y1="64" x2="396.7" y2="64" class="e"/>
<line x1="412" y1="52.8" x2="412" y2="65.8" class="e"/>
<line x1="410" y1="52.8" x2="414" y2="52.8" class="e"/>
<line x1="410" y1="65.8" x2="414" y2="65.8" class="e"/>
<line x1="430.4" y1="96.8" x2="430.4" y2="109.8" class="e"/>
<line x1="428.4" y1="96.8" x2="432.4" y2="96.8" class="e"/>
<line x1="428.4" y1="109.8" x2="432.4" y2="109.8" class="e"/>
<line x1="447.7" y1="90.8" x2="447.7" y2="128.8" class="e"/>
<line x1="445.7" y1="90.8" x2="449.7" y2="90.8" class="e"/>
<line x1="445.7" y1="128.8" x2="449.7" y2="128.8" class="e"/>
<line x1="466.2" y1="114.1" x2="466.2" y2="128" class="e"/>
<line x1="464.2" y1="114.1" x2="468.2" y2="114.1" class="e"/>
<line x1="464.2" y1="128" x2="468.2" y2="128" class="e"/>
<line x1="483.6" y1="111.2" x2="483.6" y2="128.8" class="e"/>
<line x1="481.6" y1="111.2" x2="485.6" y2="111.2" class="e"/>
<line x1="481.6" y1="128.8" x2="485.6" y2="128.8" class="e"/>
<circle cx="353.1" cy="65.4" r="2.3" class="mf"/>
<rect x="373.90" y="63.70" width="4.2" height="4.2" class="mf"/>
<rect x="392.60" y="56.70" width="4.2" height="4.2" class="mf"/>
<rect x="392.90" y="60.50" width="3.6" height="3.6" class="mo"/>
<rect x="410.20" y="57.00" width="3.6" height="3.6" class="mo"/>
<rect x="428.30" y="98.20" width="4.2" height="4.2" class="mf"/>
<rect x="428.60" y="104.20" width="3.6" height="3.6" class="mo"/>
<rect x="445.60" y="108.60" width="4.2" height="4.2" class="mf"/>
<rect x="464.10" y="118.10" width="4.2" height="4.2" class="mf"/>
<rect x="481.50" y="119.00" width="4.2" height="4.2" class="mf"/>
<line x1="57.7" y1="180.6" x2="57.7" y2="282.0" class="a"/>
<line x1="57.1" y1="279.2" x2="198" y2="279.2" class="a"/>
<line x1="54.7" y1="279.20" x2="57.7" y2="279.20" class="a"/>
<text x="53.30" y="282.80" class="t" text-anchor="end">0</text>
<line x1="54.7" y1="262.77" x2="57.7" y2="262.77" class="a"/>
<text x="53.30" y="266.37" class="t" text-anchor="end">20</text>
<line x1="54.7" y1="246.33" x2="57.7" y2="246.33" class="a"/>
<text x="53.30" y="249.93" class="t" text-anchor="end">40</text>
<line x1="54.7" y1="229.90" x2="57.7" y2="229.90" class="a"/>
<text x="53.30" y="233.50" class="t" text-anchor="end">60</text>
<line x1="54.7" y1="213.47" x2="57.7" y2="213.47" class="a"/>
<text x="53.30" y="217.07" class="t" text-anchor="end">80</text>
<line x1="54.7" y1="197.03" x2="57.7" y2="197.03" class="a"/>
<text x="53.30" y="200.63" class="t" text-anchor="end">100</text>
<line x1="54.7" y1="180.60" x2="57.7" y2="180.60" class="a"/>
<text x="53.30" y="184.20" class="t" text-anchor="end">120</text>
<line x1="57.7" y1="279.2" x2="57.7" y2="282.0" class="a"/>
<text x="57.20" y="291.80" class="t" text-anchor="middle">0</text>
<line x1="86.2" y1="279.2" x2="86.2" y2="282.0" class="a"/>
<text x="85.70" y="291.80" class="t" text-anchor="middle">0.1</text>
<line x1="114.2" y1="279.2" x2="114.2" y2="282.0" class="a"/>
<text x="113.70" y="291.80" class="t" text-anchor="middle">1</text>
<line x1="142.3" y1="279.2" x2="142.3" y2="282.0" class="a"/>
<text x="141.80" y="291.80" class="t" text-anchor="middle">10</text>
<line x1="170.1" y1="279.2" x2="170.1" y2="282.0" class="a"/>
<text x="169.60" y="291.80" class="t" text-anchor="middle">100</text>
<line x1="198" y1="279.2" x2="198" y2="282.0" class="a"/>
<path d="M57.7 198.03 L58.2 198.03 L58.7 198.03 L59.2 198.04 L59.7 198.04 L60.2 198.04 L60.7 198.05 L61.2 198.05 L61.7 198.05 L62.2 198.06 L62.7 198.06 L63.2 198.06 L63.7 198.07 L64.2 198.07 L64.7 198.08 L65.2 198.08 L65.7 198.09 L66.2 198.09 L66.7 198.10 L67.2 198.10 L67.7 198.11 L68.2 198.11 L68.7 198.12 L69.2 198.13 L69.7 198.13 L70.2 198.14 L70.7 198.15 L71.2 198.15 L71.7 198.16 L72.2 198.17 L72.7 198.18 L73.2 198.18 L73.7 198.19 L74.2 198.20 L74.7 198.21 L75.2 198.22 L75.7 198.23 L76.2 198.24 L76.7 198.25 L77.2 198.26 L77.7 198.28 L78.2 198.29 L78.7 198.30 L79.2 198.31 L79.7 198.33 L80.2 198.34 L80.7 198.35 L81.2 198.37 L81.7 198.38 L82.2 198.40 L82.7 198.42 L83.2 198.43 L83.7 198.45 L84.2 198.47 L84.7 198.49 L85.2 198.51 L85.7 198.53 L86.2 198.55 L86.7 198.58 L87.2 198.60 L87.7 198.62 L88.2 198.65 L88.7 198.67 L89.2 198.70 L89.7 198.73 L90.2 198.76 L90.7 198.79 L91.2 198.82 L91.7 198.85 L92.2 198.88 L92.7 198.92 L93.2 198.95 L93.7 198.99 L94.2 199.03 L94.7 199.07 L95.2 199.11 L95.7 199.15 L96.2 199.20 L96.7 199.24 L97.2 199.29 L97.7 199.34 L98.2 199.39 L98.7 199.44 L99.2 199.50 L99.7 199.55 L100.2 199.61 L100.7 199.67 L101.2 199.74 L101.7 199.80 L102.2 199.87 L102.7 199.94 L103.2 200.01 L103.7 200.09 L104.2 200.16 L104.7 200.24 L105.2 200.33 L105.7 200.41 L106.2 200.50 L106.7 200.59 L107.2 200.69 L107.7 200.78 L108.2 200.89 L108.7 200.99 L109.2 201.10 L109.7 201.21 L110.2 201.33 L110.7 201.45 L111.2 201.57 L111.7 201.70 L112.2 201.83 L112.7 201.96 L113.2 202.10 L113.7 202.25 L114.2 202.40 L114.7 202.55 L115.2 202.71 L115.7 202.87 L116.2 203.04 L116.7 203.22 L117.2 203.39 L117.7 203.58 L118.2 203.77 L118.7 203.96 L119.2 204.17 L119.7 204.37 L120.2 204.59 L120.7 204.81 L121.2 205.03 L121.7 205.26 L122.2 205.50 L122.7 205.74 L123.2 206.00 L123.7 206.25 L124.2 206.52 L124.7 206.79 L125.2 207.07 L125.7 207.35 L126.2 207.64 L126.7 207.94 L127.2 208.25 L127.7 208.56 L128.2 208.88 L128.7 209.21 L129.2 209.54 L129.7 209.89 L130.2 210.24 L130.7 210.59 L131.2 210.95 L131.7 211.33 L132.2 211.70 L132.7 212.09 L133.2 212.48 L133.7 212.88 L134.2 213.28 L134.7 213.69 L135.2 214.11 L135.7 214.53 L136.2 214.96 L136.7 215.40 L137.2 215.84 L137.7 216.29 L138.2 216.74 L138.7 217.20 L139.2 217.66 L139.7 218.13 L140.2 218.60 L140.7 219.08 L141.2 219.56 L141.7 220.04 L142.2 220.53 L142.7 221.02 L143.2 221.51 L143.7 222.00 L144.2 222.50 L144.7 223.00 L145.2 223.50 L145.7 224.00 L146.2 224.50 L146.7 225.00 L147.2 225.51 L147.7 226.01 L148.2 226.51 L148.7 227.01 L149.2 227.51 L149.7 228.00 L150.2 228.50 L150.7 228.99 L151.2 229.48 L151.7 229.96 L152.2 230.45 L152.7 230.93 L153.2 231.40 L153.7 231.87 L154.2 232.34 L154.7 232.80 L155.2 233.26 L155.7 233.71 L156.2 234.16 L156.7 234.60 L157.2 235.03 L157.7 235.46 L158.2 235.89 L158.7 236.30 L159.2 236.71 L159.7 237.12 L160.2 237.51 L160.7 237.90 L161.2 238.29 L161.7 238.66 L162.2 239.03 L162.7 239.40 L163.2 239.75 L163.7 240.10 L164.2 240.44 L164.7 240.77 L165.2 241.10 L165.7 241.42 L166.2 241.73 L166.7 242.04 L167.2 242.33 L167.7 242.62 L168.2 242.91 L168.7 243.19 L169.2 243.46 L169.7 243.72 L170.2 243.98 L170.7 244.23 L171.2 244.47 L171.7 244.71 L172.2 244.94 L172.7 245.16 L173.2 245.38 L173.7 245.59 L174.2 245.80 L174.7 246.00 L175.2 246.19 L175.7 246.38 L176.2 246.57 L176.3 246.60" class="c"/>
<path d="M57.7 198.15 L58.2 198.16 L58.7 198.17 L59.2 198.18 L59.7 198.19 L60.2 198.20 L60.7 198.21 L61.2 198.22 L61.7 198.24 L62.2 198.25 L62.7 198.26 L63.2 198.28 L63.7 198.29 L64.2 198.31 L64.7 198.32 L65.2 198.34 L65.7 198.36 L66.2 198.37 L66.7 198.39 L67.2 198.41 L67.7 198.43 L68.2 198.45 L68.7 198.47 L69.2 198.50 L69.7 198.52 L70.2 198.54 L70.7 198.57 L71.2 198.59 L71.7 198.62 L72.2 198.65 L72.7 198.68 L73.2 198.71 L73.7 198.74 L74.2 198.77 L74.7 198.80 L75.2 198.84 L75.7 198.88 L76.2 198.91 L76.7 198.95 L77.2 198.99 L77.7 199.04 L78.2 199.08 L78.7 199.12 L79.2 199.17 L79.7 199.22 L80.2 199.27 L80.7 199.32 L81.2 199.38 L81.7 199.44 L82.2 199.49 L82.7 199.56 L83.2 199.62 L83.7 199.68 L84.2 199.75 L84.7 199.82 L85.2 199.90 L85.7 199.97 L86.2 200.05 L86.7 200.13 L87.2 200.22 L87.7 200.30 L88.2 200.39 L88.7 200.49 L89.2 200.59 L89.7 200.69 L90.2 200.79 L90.7 200.90 L91.2 201.01 L91.7 201.13 L92.2 201.25 L92.7 201.37 L93.2 201.50 L93.7 201.63 L94.2 201.77 L94.7 201.91 L95.2 202.06 L95.7 202.21 L96.2 202.37 L96.7 202.53 L97.2 202.70 L97.7 202.87 L98.2 203.05 L98.7 203.24 L99.2 203.43 L99.7 203.62 L100.2 203.83 L100.7 204.04 L101.2 204.25 L101.7 204.47 L102.2 204.70 L102.7 204.94 L103.2 205.18 L103.7 205.43 L104.2 205.69 L104.7 205.96 L105.2 206.23 L105.7 206.51 L106.2 206.80 L106.7 207.09 L107.2 207.40 L107.7 207.71 L108.2 208.03 L108.7 208.36 L109.2 208.70 L109.7 209.04 L110.2 209.40 L110.7 209.76 L111.2 210.13 L111.7 210.51 L112.2 210.89 L112.7 211.29 L113.2 211.69 L113.7 212.11 L114.2 212.53 L114.7 212.96 L115.2 213.39 L115.7 213.84 L116.2 214.29 L116.7 214.75 L117.2 215.22 L117.7 215.70 L118.2 216.18 L118.7 216.67 L119.2 217.17 L119.7 217.68 L120.2 218.19 L120.7 218.70 L121.2 219.23 L121.7 219.75 L122.2 220.29 L122.7 220.83 L123.2 221.37 L123.7 221.92 L124.2 222.47 L124.7 223.02 L125.2 223.58 L125.7 224.14 L126.2 224.70 L126.7 225.27 L127.2 225.83 L127.7 226.40 L128.2 226.97 L128.7 227.53 L129.2 228.10 L129.7 228.67 L130.2 229.23 L130.7 229.80 L131.2 230.36 L131.7 230.92 L132.2 231.48 L132.7 232.03 L133.2 232.58 L133.7 233.13 L134.2 233.67 L134.7 234.21 L135.2 234.74 L135.7 235.27 L136.2 235.79 L136.7 236.31 L137.2 236.82 L137.7 237.32 L138.2 237.82 L138.7 238.31 L139.2 238.80 L139.7 239.27 L140.2 239.74 L140.7 240.20 L141.2 240.65 L141.7 241.10 L142.2 241.53 L142.7 241.96 L143.2 242.38 L143.7 242.80 L144.2 243.20 L144.7 243.59 L145.2 243.98 L145.7 244.36 L146.2 244.73 L146.7 245.09 L147.2 245.44 L147.7 245.79 L148.2 246.12 L148.7 246.45 L149.2 246.77 L149.7 247.08 L150.2 247.39 L150.7 247.68 L151.2 247.97 L151.7 248.25 L152.2 248.52 L152.7 248.79 L153.2 249.04 L153.7 249.29 L154.2 249.54 L154.7 249.77 L155.2 250.00 L155.7 250.22 L156.2 250.44 L156.7 250.65 L157.2 250.85 L157.7 251.05 L158.2 251.24 L158.7 251.42 L159.2 251.60 L159.7 251.77 L160.2 251.94 L160.7 252.10 L161.2 252.26 L161.7 252.41 L162.2 252.56 L162.7 252.70 L163.2 252.84 L163.7 252.97 L164.2 253.10 L164.7 253.22 L165.2 253.34 L165.7 253.46 L166.2 253.57 L166.7 253.68 L167.2 253.78 L167.7 253.88 L168.2 253.98 L168.7 254.07 L169.2 254.16 L169.7 254.25 L170.2 254.33 L170.7 254.42 L171.2 254.49 L171.7 254.57 L172.2 254.64 L172.7 254.71 L173.2 254.78 L173.7 254.85 L174.2 254.91 L174.7 254.97 L175.2 255.03 L175.7 255.08 L176.2 255.14 L176.3 255.15" class="c"/>
<line x1="135.2" y1="230.7" x2="135.2" y2="238.1" class="e"/>
<line x1="133.2" y1="230.7" x2="137.2" y2="230.7" class="e"/>
<line x1="133.2" y1="238.1" x2="137.2" y2="238.1" class="e"/>
<line x1="163.1" y1="252.5" x2="163.1" y2="257.9" class="e"/>
<line x1="161.1" y1="252.5" x2="165.1" y2="252.5" class="e"/>
<line x1="161.1" y1="257.9" x2="165.1" y2="257.9" class="e"/>
<rect x="90.00" y="194.70" width="4.2" height="4.2" class="mf"/>
<rect x="90.30" y="201.00" width="3.6" height="3.6" class="mo"/>
<rect x="104.40" y="199.70" width="4.2" height="4.2" class="mf"/>
<rect x="104.70" y="206.80" width="3.6" height="3.6" class="mo"/>
<rect x="118.40" y="203.00" width="4.2" height="4.2" class="mf"/>
<rect x="118.50" y="215.30" width="3.6" height="3.6" class="mo"/>
<rect x="133.10" y="213.40" width="4.2" height="4.2" class="mf"/>
<rect x="133.40" y="232.50" width="3.6" height="3.6" class="mo"/>
<rect x="145.90" y="224.50" width="4.2" height="4.2" class="mf"/>
<rect x="146.50" y="245.10" width="3.6" height="3.6" class="mo"/>
<rect x="161.00" y="237.00" width="4.2" height="4.2" class="mf"/>
<rect x="161.30" y="253.40" width="3.6" height="3.6" class="mo"/>
<rect x="174.20" y="246.00" width="4.2" height="4.2" class="mf"/>
<rect x="174.50" y="251.10" width="3.6" height="3.6" class="mo"/>
<line x1="205.7" y1="181" x2="205.7" y2="281.8" class="a"/>
<line x1="205.1" y1="279" x2="338.7" y2="279" class="a"/>
<line x1="202.7" y1="279.00" x2="205.7" y2="279.00" class="a"/>
<line x1="202.7" y1="262.67" x2="205.7" y2="262.67" class="a"/>
<line x1="202.7" y1="246.33" x2="205.7" y2="246.33" class="a"/>
<line x1="202.7" y1="230.00" x2="205.7" y2="230.00" class="a"/>
<line x1="202.7" y1="213.67" x2="205.7" y2="213.67" class="a"/>
<line x1="202.7" y1="197.33" x2="205.7" y2="197.33" class="a"/>
<line x1="202.7" y1="181.00" x2="205.7" y2="181.00" class="a"/>
<line x1="205.7" y1="279" x2="205.7" y2="281.8" class="a"/>
<text x="205.20" y="291.60" class="t" text-anchor="middle">0</text>
<line x1="236.5" y1="279" x2="236.5" y2="281.8" class="a"/>
<text x="236.00" y="291.60" class="t" text-anchor="middle">0.01</text>
<line x1="267.7" y1="279" x2="267.7" y2="281.8" class="a"/>
<text x="267.20" y="291.60" class="t" text-anchor="middle">0.1</text>
<line x1="298.8" y1="279" x2="298.8" y2="281.8" class="a"/>
<text x="298.30" y="291.60" class="t" text-anchor="middle">1</text>
<line x1="329.2" y1="279" x2="329.2" y2="281.8" class="a"/>
<text x="328.70" y="291.60" class="t" text-anchor="middle">10</text>
<path d="M205.7 195.12 L206.2 195.17 L206.7 195.22 L207.2 195.26 L207.7 195.32 L208.2 195.37 L208.7 195.42 L209.2 195.48 L209.7 195.54 L210.2 195.60 L210.7 195.66 L211.2 195.73 L211.7 195.80 L212.2 195.87 L212.7 195.94 L213.2 196.02 L213.7 196.10 L214.2 196.18 L214.7 196.26 L215.2 196.35 L215.7 196.44 L216.2 196.53 L216.7 196.63 L217.2 196.73 L217.7 196.84 L218.2 196.95 L218.7 197.06 L219.2 197.17 L219.7 197.29 L220.2 197.42 L220.7 197.55 L221.2 197.68 L221.7 197.82 L222.2 197.96 L222.7 198.11 L223.2 198.26 L223.7 198.42 L224.2 198.58 L224.7 198.75 L225.2 198.93 L225.7 199.11 L226.2 199.29 L226.7 199.48 L227.2 199.68 L227.7 199.89 L228.2 200.10 L228.7 200.32 L229.2 200.54 L229.7 200.78 L230.2 201.02 L230.7 201.26 L231.2 201.52 L231.7 201.78 L232.2 202.05 L232.7 202.33 L233.2 202.62 L233.7 202.91 L234.2 203.22 L234.7 203.53 L235.2 203.85 L235.7 204.18 L236.2 204.52 L236.7 204.87 L237.2 205.23 L237.7 205.60 L238.2 205.97 L238.7 206.36 L239.2 206.76 L239.7 207.16 L240.2 207.58 L240.7 208.01 L241.2 208.44 L241.7 208.89 L242.2 209.35 L242.7 209.82 L243.2 210.29 L243.7 210.78 L244.2 211.28 L244.7 211.78 L245.2 212.30 L245.7 212.83 L246.2 213.36 L246.7 213.91 L247.2 214.47 L247.7 215.03 L248.2 215.60 L248.7 216.19 L249.2 216.78 L249.7 217.38 L250.2 217.98 L250.7 218.60 L251.2 219.22 L251.7 219.85 L252.2 220.49 L252.7 221.13 L253.2 221.78 L253.7 222.44 L254.2 223.10 L254.7 223.76 L255.2 224.43 L255.7 225.10 L256.2 225.78 L256.7 226.46 L257.2 227.14 L257.7 227.83 L258.2 228.51 L258.7 229.20 L259.2 229.89 L259.7 230.58 L260.2 231.27 L260.7 231.95 L261.2 232.64 L261.7 233.32 L262.2 234.00 L262.7 234.68 L263.2 235.36 L263.7 236.03 L264.2 236.70 L264.7 237.36 L265.2 238.02 L265.7 238.67 L266.2 239.32 L266.7 239.96 L267.2 240.59 L267.7 241.22 L268.2 241.84 L268.7 242.45 L269.2 243.05 L269.7 243.65 L270.2 244.23 L270.7 244.81 L271.2 245.38 L271.7 245.94 L272.2 246.49 L272.7 247.03 L273.2 247.57 L273.7 248.09 L274.2 248.60 L274.7 249.10 L275.2 249.59 L275.7 250.08 L276.2 250.55 L276.7 251.01 L277.2 251.46 L277.7 251.91 L278.2 252.34 L278.7 252.76 L279.2 253.17 L279.7 253.58 L280.2 253.97 L280.7 254.35 L281.2 254.72 L281.7 255.09 L282.2 255.44 L282.7 255.79 L283.2 256.12 L283.7 256.45 L284.2 256.76 L284.7 257.07 L285.2 257.37 L285.7 257.66 L286.2 257.95 L286.7 258.22 L287.2 258.49 L287.7 258.75 L288.2 259.00 L288.7 259.24 L289.2 259.48 L289.7 259.71 L290.2 259.93 L290.7 260.15 L291.2 260.36 L291.7 260.56 L292.2 260.75 L292.7 260.94 L293.2 261.13 L293.7 261.30 L294.2 261.47 L294.7 261.64 L295.2 261.80 L295.7 261.96 L296.2 262.11 L296.7 262.25 L297.2 262.39 L297.7 262.53 L298.2 262.66 L298.7 262.79 L299.2 262.91 L299.7 263.03 L300.2 263.14 L300.7 263.25 L301.2 263.36 L301.7 263.46 L302.2 263.56 L302.7 263.66 L303.2 263.75 L303.7 263.84 L304.2 263.92 L304.7 264.01 L305.2 264.09 L305.7 264.17 L306.2 264.24 L306.7 264.31 L307.2 264.38 L307.7 264.45 L308.2 264.51 L308.7 264.58 L309.2 264.64 L309.7 264.69 L310.2 264.75 L310.7 264.80 L311.2 264.86 L311.7 264.91 L312.2 264.95 L312.7 265.00 L313.2 265.05 L313.7 265.09 L314.2 265.13 L314.7 265.17 L315.2 265.21 L315.7 265.25 L316.2 265.28 L316.7 265.32 L317.2 265.35 L317.7 265.38 L318.2 265.41 L318.7 265.44 L319.2 265.47 L319.7 265.50 L320.2 265.53 L320.7 265.55 L321.2 265.58 L321.7 265.60 L322.2 265.62 L322.7 265.65 L323.2 265.67 L323.7 265.69 L324.2 265.71 L324.7 265.73 L325.2 265.74 L325.7 265.76 L326.2 265.78 L326.7 265.80 L327.2 265.81 L327.7 265.83 L328.2 265.84 L328.7 265.86 L328.8 265.86" class="c"/>
<path d="M205.7 196.89 L206.2 197.13 L206.7 197.38 L207.2 197.64 L207.7 197.91 L208.2 198.18 L208.7 198.47 L209.2 198.77 L209.7 199.07 L210.2 199.39 L210.7 199.71 L211.2 200.05 L211.7 200.39 L212.2 200.75 L212.7 201.12 L213.2 201.50 L213.7 201.88 L214.2 202.29 L214.7 202.70 L215.2 203.12 L215.7 203.56 L216.2 204.00 L216.7 204.46 L217.2 204.93 L217.7 205.42 L218.2 205.91 L218.7 206.42 L219.2 206.94 L219.7 207.47 L220.2 208.02 L220.7 208.57 L221.2 209.14 L221.7 209.73 L222.2 210.32 L222.7 210.92 L223.2 211.54 L223.7 212.17 L224.2 212.81 L224.7 213.46 L225.2 214.12 L225.7 214.80 L226.2 215.48 L226.7 216.17 L227.2 216.88 L227.7 217.59 L228.2 218.31 L228.7 219.04 L229.2 219.77 L229.7 220.52 L230.2 221.27 L230.7 222.03 L231.2 222.79 L231.7 223.56 L232.2 224.34 L232.7 225.12 L233.2 225.90 L233.7 226.68 L234.2 227.47 L234.7 228.26 L235.2 229.05 L235.7 229.84 L236.2 230.63 L236.7 231.42 L237.2 232.21 L237.7 232.99 L238.2 233.77 L238.7 234.55 L239.2 235.33 L239.7 236.10 L240.2 236.86 L240.7 237.62 L241.2 238.38 L241.7 239.12 L242.2 239.86 L242.7 240.59 L243.2 241.31 L243.7 242.03 L244.2 242.73 L244.7 243.43 L245.2 244.11 L245.7 244.79 L246.2 245.45 L246.7 246.11 L247.2 246.75 L247.7 247.38 L248.2 248.00 L248.7 248.61 L249.2 249.20 L249.7 249.79 L250.2 250.36 L250.7 250.92 L251.2 251.46 L251.7 252.00 L252.2 252.52 L252.7 253.03 L253.2 253.53 L253.7 254.02 L254.2 254.49 L254.7 254.95 L255.2 255.40 L255.7 255.84 L256.2 256.26 L256.7 256.68 L257.2 257.08 L257.7 257.47 L258.2 257.85 L258.7 258.22 L259.2 258.58 L259.7 258.93 L260.2 259.27 L260.7 259.59 L261.2 259.91 L261.7 260.22 L262.2 260.51 L262.7 260.80 L263.2 261.08 L263.7 261.35 L264.2 261.61 L264.7 261.87 L265.2 262.11 L265.7 262.35 L266.2 262.58 L266.7 262.80 L267.2 263.01 L267.7 263.22 L268.2 263.41 L268.7 263.61 L269.2 263.79 L269.7 263.97 L270.2 264.14 L270.7 264.31 L271.2 264.47 L271.7 264.63 L272.2 264.78 L272.7 264.92 L273.2 265.06 L273.7 265.19 L274.2 265.32 L274.7 265.45 L275.2 265.57 L275.7 265.68 L276.2 265.79 L276.7 265.90 L277.2 266.00 L277.7 266.10 L278.2 266.20 L278.7 266.29 L279.2 266.38 L279.7 266.46 L280.2 266.55 L280.7 266.62 L281.2 266.70 L281.7 266.77 L282.2 266.84 L282.7 266.91 L283.2 266.98 L283.7 267.04 L284.2 267.10 L284.7 267.16 L285.2 267.21 L285.7 267.27 L286.2 267.32 L286.7 267.37 L287.2 267.42 L287.7 267.46 L288.2 267.51 L288.7 267.55 L289.2 267.59 L289.7 267.63 L290.2 267.67 L290.7 267.70 L291.2 267.74 L291.7 267.77 L292.2 267.80 L292.7 267.83 L293.2 267.86 L293.7 267.89 L294.2 267.92 L294.7 267.95 L295.2 267.97 L295.7 268.00 L296.2 268.02 L296.7 268.04 L297.2 268.06 L297.7 268.08 L298.2 268.10 L298.7 268.12 L299.2 268.14 L299.7 268.16 L300.2 268.18 L300.7 268.19 L301.2 268.21 L301.7 268.22 L302.2 268.24 L302.7 268.25 L303.2 268.26 L303.7 268.28 L304.2 268.29 L304.7 268.30 L305.2 268.31 L305.7 268.32 L306.2 268.33 L306.7 268.34 L307.2 268.35 L307.7 268.36 L308.2 268.37 L308.7 268.38 L309.2 268.39 L309.7 268.40 L310.2 268.40 L310.7 268.41 L311.2 268.42 L311.7 268.43 L312.2 268.43 L312.7 268.44 L313.2 268.44 L313.7 268.45 L314.2 268.46 L314.7 268.46 L315.2 268.47 L315.7 268.47 L316.2 268.48 L316.7 268.48 L317.2 268.48 L317.7 268.49 L318.2 268.49 L318.7 268.50 L319.2 268.50 L319.7 268.50 L320.2 268.51 L320.7 268.51 L321.2 268.51 L321.7 268.52 L322.2 268.52 L322.7 268.52 L323.2 268.53 L323.7 268.53 L324.2 268.53 L324.7 268.53 L325.2 268.53 L325.7 268.54 L326.2 268.54 L326.7 268.54 L327.2 268.54 L327.7 268.54 L328.2 268.55 L328.7 268.55 L328.8 268.55" class="c"/>
<line x1="236.4" y1="224.7" x2="236.4" y2="232.8" class="e"/>
<line x1="234.4" y1="224.7" x2="238.4" y2="224.7" class="e"/>
<line x1="234.4" y1="232.8" x2="238.4" y2="232.8" class="e"/>
<line x1="252.5" y1="254.8" x2="252.5" y2="260.6" class="e"/>
<line x1="250.5" y1="254.8" x2="254.5" y2="254.8" class="e"/>
<line x1="250.5" y1="260.6" x2="254.5" y2="260.6" class="e"/>
<line x1="267.9" y1="240.4" x2="267.9" y2="248.1" class="e"/>
<line x1="265.9" y1="240.4" x2="269.9" y2="240.4" class="e"/>
<line x1="265.9" y1="248.1" x2="269.9" y2="248.1" class="e"/>
<line x1="283.8" y1="248" x2="283.8" y2="254.8" class="e"/>
<line x1="281.8" y1="248" x2="285.8" y2="248" class="e"/>
<line x1="281.8" y1="254.8" x2="285.8" y2="254.8" class="e"/>
<line x1="283.8" y1="261.2" x2="283.8" y2="266.3" class="e"/>
<line x1="281.8" y1="261.2" x2="285.8" y2="261.2" class="e"/>
<line x1="281.8" y1="266.3" x2="285.8" y2="266.3" class="e"/>
<line x1="298.7" y1="252.9" x2="298.7" y2="258.7" class="e"/>
<line x1="296.7" y1="252.9" x2="300.7" y2="252.9" class="e"/>
<line x1="296.7" y1="258.7" x2="300.7" y2="258.7" class="e"/>
<line x1="298.7" y1="262.5" x2="298.7" y2="267.3" class="e"/>
<line x1="296.7" y1="262.5" x2="300.7" y2="262.5" class="e"/>
<line x1="296.7" y1="267.3" x2="300.7" y2="267.3" class="e"/>
<line x1="314.6" y1="256" x2="314.6" y2="262.5" class="e"/>
<line x1="312.6" y1="256" x2="316.6" y2="256" class="e"/>
<line x1="312.6" y1="262.5" x2="316.6" y2="262.5" class="e"/>
<line x1="314.6" y1="262.5" x2="314.6" y2="269.2" class="e"/>
<line x1="312.6" y1="262.5" x2="316.6" y2="262.5" class="e"/>
<line x1="312.6" y1="269.2" x2="316.6" y2="269.2" class="e"/>
<line x1="328.8" y1="260.6" x2="328.8" y2="295" class="e"/>
<line x1="326.8" y1="260.6" x2="330.8" y2="260.6" class="e"/>
<line x1="326.8" y1="295" x2="330.8" y2="295" class="e"/>
<circle cx="206" cy="198.6" r="2.3" class="mf"/>
<rect x="203.90" y="194.20" width="4.2" height="4.2" class="mf"/>
<rect x="235.10" y="199.40" width="3.6" height="3.6" class="mo"/>
<circle cx="236.4" cy="228.7" r="2.3" class="mf"/>
<rect x="251.30" y="219.30" width="3.6" height="3.6" class="mo"/>
<circle cx="252.5" cy="257.7" r="2.3" class="mf"/>
<rect x="266.50" y="242.40" width="3.6" height="3.6" class="mo"/>
<rect x="265.80" y="261.00" width="4.2" height="4.2" class="mf"/>
<rect x="282.00" y="250.10" width="3.6" height="3.6" class="mo"/>
<rect x="281.70" y="261.40" width="4.2" height="4.2" class="mf"/>
<rect x="296.90" y="254.00" width="3.6" height="3.6" class="mo"/>
<rect x="296.60" y="262.90" width="4.2" height="4.2" class="mf"/>
<rect x="312.80" y="257.40" width="3.6" height="3.6" class="mo"/>
<rect x="312.50" y="263.30" width="4.2" height="4.2" class="mf"/>
<rect x="326.70" y="275.20" width="4.2" height="4.2" class="mf"/>
<line x1="356.2" y1="181.5" x2="356.2" y2="282.5" class="a"/>
<line x1="355.59999999999997" y1="279.7" x2="474.4" y2="279.7" class="a"/>
<line x1="353.2" y1="279.70" x2="356.2" y2="279.70" class="a"/>
<line x1="353.2" y1="263.33" x2="356.2" y2="263.33" class="a"/>
<line x1="353.2" y1="246.97" x2="356.2" y2="246.97" class="a"/>
<line x1="353.2" y1="230.60" x2="356.2" y2="230.60" class="a"/>
<line x1="353.2" y1="214.23" x2="356.2" y2="214.23" class="a"/>
<line x1="353.2" y1="197.87" x2="356.2" y2="197.87" class="a"/>
<line x1="353.2" y1="181.50" x2="356.2" y2="181.50" class="a"/>
<line x1="356.2" y1="279.7" x2="356.2" y2="282.5" class="a"/>
<text x="355.70" y="292.30" class="t" text-anchor="middle">0</text>
<line x1="386" y1="279.7" x2="386" y2="282.5" class="a"/>
<text x="385.50" y="292.30" class="t" text-anchor="middle">0.01</text>
<line x1="415.4" y1="279.7" x2="415.4" y2="282.5" class="a"/>
<text x="414.90" y="292.30" class="t" text-anchor="middle">0.1</text>
<line x1="444.8" y1="279.7" x2="444.8" y2="282.5" class="a"/>
<text x="444.30" y="292.30" class="t" text-anchor="middle">1</text>
<line x1="474.4" y1="279.7" x2="474.4" y2="282.5" class="a"/>
<text x="473.90" y="292.30" class="t" text-anchor="middle">10</text>
<path d="M356.2 193.85 L356.7 193.85 L357.2 193.85 L357.7 193.85 L358.2 193.85 L358.7 193.85 L359.2 193.85 L359.7 193.85 L360.2 193.85 L360.7 193.85 L361.2 193.85 L361.7 193.85 L362.2 193.85 L362.7 193.85 L363.2 193.85 L363.7 193.85 L364.2 193.85 L364.7 193.85 L365.2 193.85 L365.7 193.85 L366.2 193.85 L366.7 193.85 L367.2 193.85 L367.7 193.85 L368.2 193.85 L368.7 193.85 L369.2 193.85 L369.7 193.85 L370.2 193.85 L370.7 193.85 L371.2 193.85 L371.7 193.85 L372.2 193.85 L372.7 193.85 L373.2 193.85 L373.7 193.85 L374.2 193.85 L374.7 193.85 L375.2 193.85 L375.7 193.85 L376.2 193.85 L376.7 193.85 L377.2 193.85 L377.7 193.85 L378.2 193.85 L378.7 193.85 L379.2 193.85 L379.7 193.85 L380.2 193.85 L380.7 193.85 L381.2 193.85 L381.7 193.85 L382.2 193.85 L382.7 193.85 L383.2 193.85 L383.7 193.85 L384.2 193.85 L384.7 193.85 L385.2 193.85 L385.7 193.85 L386.2 193.85 L386.7 193.85 L387.2 193.85 L387.7 193.85 L388.2 193.85 L388.7 193.85 L389.2 193.85 L389.7 193.85 L390.2 193.85 L390.7 193.85 L391.2 193.85 L391.7 193.85 L392.2 193.85 L392.7 193.85 L393.2 193.85 L393.7 193.85 L394.2 193.85 L394.7 193.85 L395.2 193.85 L395.7 193.85 L396.2 193.85 L396.7 193.85 L397.2 193.85 L397.7 193.85 L398.2 193.85 L398.7 193.85 L399.2 193.85 L399.7 193.85 L400.2 193.85 L400.7 193.85 L401.2 193.86 L401.7 193.86 L402.2 193.86 L402.7 193.87 L403.2 193.88 L403.7 193.89 L404.2 193.91 L404.7 193.93 L405.2 193.97 L405.7 194.01 L406.2 194.08 L406.7 194.17 L407.2 194.29 L407.7 194.47 L408.2 194.71 L408.7 195.04 L409.2 195.50 L409.7 196.13 L410.2 196.99 L410.7 198.15 L411.2 199.69 L411.7 201.73 L412.2 204.35 L412.7 207.64 L413.2 211.64 L413.7 216.31 L414.2 221.52 L414.7 227.04 L415.2 232.58 L415.7 237.86 L416.2 242.62 L416.7 246.73 L417.2 250.12 L417.7 252.84 L418.2 254.96 L418.7 256.57 L419.2 257.78 L419.7 258.68 L420.2 259.34 L420.7 259.82 L421.2 260.17 L421.7 260.43 L422.2 260.61 L422.7 260.74 L423.2 260.84 L423.7 260.90 L424.2 260.95 L424.7 260.99 L425.2 261.01 L425.7 261.03 L426.2 261.04 L426.7 261.05 L427.2 261.06 L427.7 261.07 L428.2 261.07 L428.7 261.07 L429.2 261.07 L429.7 261.07 L430.2 261.08 L430.7 261.08 L431.2 261.08 L431.7 261.08 L432.2 261.08 L432.7 261.08 L433.2 261.08 L433.7 261.08 L434.2 261.08 L434.7 261.08 L435.2 261.08 L435.7 261.08 L436.2 261.08 L436.7 261.08 L437.2 261.08 L437.7 261.08 L438.2 261.08 L438.7 261.08 L439.2 261.08 L439.7 261.08 L440.2 261.08 L440.7 261.08 L441.2 261.08 L441.7 261.08 L442.2 261.08 L442.7 261.08 L443.2 261.08 L443.7 261.08 L444.2 261.08 L444.7 261.08 L445.2 261.08 L445.7 261.08 L446.2 261.08 L446.7 261.08 L447.2 261.08 L447.7 261.08 L448.2 261.08 L448.7 261.08 L449.2 261.08 L449.7 261.08 L450.2 261.08 L450.7 261.08 L451.2 261.08 L451.7 261.08 L452.2 261.08 L452.7 261.08 L453.2 261.08 L453.7 261.08 L454.2 261.08 L454.7 261.08 L455.2 261.08 L455.7 261.08 L456.2 261.08 L456.7 261.08 L457.2 261.08 L457.7 261.08 L458.2 261.08 L458.7 261.08 L459.2 261.08 L459.7 261.08 L460.2 261.08 L460.7 261.08 L461.2 261.08 L461.7 261.08 L462.2 261.08 L462.7 261.08 L463.2 261.08 L463.7 261.08 L464.2 261.08 L464.7 261.08 L465.2 261.08 L465.7 261.08 L466.2 261.08 L466.7 261.08 L467.2 261.08 L467.7 261.08 L468.2 261.08 L468.7 261.08 L469.2 261.08 L469.7 261.08 L470.2 261.08 L470.7 261.08 L471.2 261.08 L471.7 261.08 L472.2 261.08 L472.7 261.08 L473.2 261.08 L473.7 261.08 L474.2 261.08 L474.7 261.08 L475.0 261.08" class="c"/>
<path d="M356.2 197.22 L356.7 197.22 L357.2 197.22 L357.7 197.22 L358.2 197.22 L358.7 197.22 L359.2 197.22 L359.7 197.22 L360.2 197.22 L360.7 197.22 L361.2 197.22 L361.7 197.22 L362.2 197.22 L362.7 197.22 L363.2 197.22 L363.7 197.22 L364.2 197.22 L364.7 197.22 L365.2 197.22 L365.7 197.22 L366.2 197.22 L366.7 197.22 L367.2 197.22 L367.7 197.22 L368.2 197.22 L368.7 197.22 L369.2 197.22 L369.7 197.22 L370.2 197.22 L370.7 197.22 L371.2 197.22 L371.7 197.22 L372.2 197.22 L372.7 197.22 L373.2 197.22 L373.7 197.22 L374.2 197.22 L374.7 197.22 L375.2 197.22 L375.7 197.22 L376.2 197.22 L376.7 197.22 L377.2 197.22 L377.7 197.22 L378.2 197.22 L378.7 197.22 L379.2 197.22 L379.7 197.22 L380.2 197.23 L380.7 197.23 L381.2 197.23 L381.7 197.23 L382.2 197.23 L382.7 197.23 L383.2 197.23 L383.7 197.23 L384.2 197.23 L384.7 197.23 L385.2 197.23 L385.7 197.23 L386.2 197.24 L386.7 197.24 L387.2 197.24 L387.7 197.24 L388.2 197.25 L388.7 197.25 L389.2 197.25 L389.7 197.26 L390.2 197.27 L390.7 197.27 L391.2 197.28 L391.7 197.29 L392.2 197.30 L392.7 197.31 L393.2 197.33 L393.7 197.35 L394.2 197.37 L394.7 197.39 L395.2 197.42 L395.7 197.45 L396.2 197.48 L396.7 197.53 L397.2 197.58 L397.7 197.63 L398.2 197.70 L398.7 197.78 L399.2 197.87 L399.7 197.98 L400.2 198.10 L400.7 198.24 L401.2 198.40 L401.7 198.59 L402.2 198.82 L402.7 199.07 L403.2 199.36 L403.7 199.70 L404.2 200.09 L404.7 200.54 L405.2 201.06 L405.7 201.64 L406.2 202.32 L406.7 203.08 L407.2 203.94 L407.7 204.91 L408.2 206.01 L408.7 207.23 L409.2 208.58 L409.7 210.08 L410.2 211.72 L410.7 213.50 L411.2 215.41 L411.7 217.46 L412.2 219.62 L412.7 221.89 L413.2 224.23 L413.7 226.63 L414.2 229.06 L414.7 231.49 L415.2 233.89 L415.7 236.24 L416.2 238.50 L416.7 240.67 L417.2 242.73 L417.7 244.65 L418.2 246.44 L418.7 248.08 L419.2 249.58 L419.7 250.94 L420.2 252.17 L420.7 253.27 L421.2 254.25 L421.7 255.12 L422.2 255.88 L422.7 256.56 L423.2 257.15 L423.7 257.67 L424.2 258.12 L424.7 258.51 L425.2 258.85 L425.7 259.15 L426.2 259.41 L426.7 259.63 L427.2 259.82 L427.7 259.98 L428.2 260.13 L428.7 260.25 L429.2 260.36 L429.7 260.45 L430.2 260.53 L430.7 260.59 L431.2 260.65 L431.7 260.70 L432.2 260.75 L432.7 260.78 L433.2 260.81 L433.7 260.84 L434.2 260.87 L434.7 260.89 L435.2 260.90 L435.7 260.92 L436.2 260.93 L436.7 260.94 L437.2 260.95 L437.7 260.96 L438.2 260.97 L438.7 260.97 L439.2 260.98 L439.7 260.98 L440.2 260.99 L440.7 260.99 L441.2 260.99 L441.7 260.99 L442.2 261.00 L442.7 261.00 L443.2 261.00 L443.7 261.00 L444.2 261.00 L444.7 261.00 L445.2 261.00 L445.7 261.00 L446.2 261.00 L446.7 261.01 L447.2 261.01 L447.7 261.01 L448.2 261.01 L448.7 261.01 L449.2 261.01 L449.7 261.01 L450.2 261.01 L450.7 261.01 L451.2 261.01 L451.7 261.01 L452.2 261.01 L452.7 261.01 L453.2 261.01 L453.7 261.01 L454.2 261.01 L454.7 261.01 L455.2 261.01 L455.7 261.01 L456.2 261.01 L456.7 261.01 L457.2 261.01 L457.7 261.01 L458.2 261.01 L458.7 261.01 L459.2 261.01 L459.7 261.01 L460.2 261.01 L460.7 261.01 L461.2 261.01 L461.7 261.01 L462.2 261.01 L462.7 261.01 L463.2 261.01 L463.7 261.01 L464.2 261.01 L464.7 261.01 L465.2 261.01 L465.7 261.01 L466.2 261.01 L466.7 261.01 L467.2 261.01 L467.7 261.01 L468.2 261.01 L468.7 261.01 L469.2 261.01 L469.7 261.01 L470.2 261.01 L470.7 261.01 L471.2 261.01 L471.7 261.01 L472.2 261.01 L472.7 261.01 L473.2 261.01 L473.7 261.01 L474.2 261.01 L474.7 261.01 L475.0 261.01" class="c"/>
<line x1="415.2" y1="229.6" x2="415.2" y2="239.6" class="e"/>
<line x1="413.2" y1="229.6" x2="417.2" y2="229.6" class="e"/>
<line x1="413.2" y1="239.6" x2="417.2" y2="239.6" class="e"/>
<line x1="430.4" y1="253.5" x2="430.4" y2="259" class="e"/>
<line x1="428.4" y1="253.5" x2="432.4" y2="253.5" class="e"/>
<line x1="428.4" y1="259" x2="432.4" y2="259" class="e"/>
<line x1="445" y1="258.8" x2="445" y2="266.2" class="e"/>
<line x1="443" y1="258.8" x2="447" y2="258.8" class="e"/>
<line x1="443" y1="266.2" x2="447" y2="266.2" class="e"/>
<line x1="460.4" y1="259.6" x2="460.4" y2="265.8" class="e"/>
<line x1="458.4" y1="259.6" x2="462.4" y2="259.6" class="e"/>
<line x1="458.4" y1="265.8" x2="462.4" y2="265.8" class="e"/>
<rect x="353.90" y="195.70" width="4.2" height="4.2" class="mf"/>
<rect x="383.50" y="189.60" width="4.2" height="4.2" class="mf"/>
<rect x="383.80" y="196.00" width="3.6" height="3.6" class="mo"/>
<rect x="399.00" y="190.30" width="4.2" height="4.2" class="mf"/>
<rect x="399.30" y="194.60" width="3.6" height="3.6" class="mo"/>
<rect x="413.10" y="232.70" width="4.2" height="4.2" class="mf"/>
<rect x="428.30" y="254.40" width="4.2" height="4.2" class="mf"/>
<rect x="442.90" y="261.10" width="4.2" height="4.2" class="mf"/>
<rect x="458.30" y="260.60" width="4.2" height="4.2" class="mf"/>
<rect x="473.20" y="262.00" width="3.6" height="3.6" class="mo"/>
<line x1="58.6" y1="320.9" x2="58.6" y2="420.0" class="a"/>
<line x1="58.0" y1="417.2" x2="192.2" y2="417.2" class="a"/>
<line x1="55.6" y1="417.20" x2="58.6" y2="417.20" class="a"/>
<text x="54.20" y="420.80" class="t" text-anchor="end">0</text>
<line x1="55.6" y1="401.15" x2="58.6" y2="401.15" class="a"/>
<text x="54.20" y="404.75" class="t" text-anchor="end">20</text>
<line x1="55.6" y1="385.10" x2="58.6" y2="385.10" class="a"/>
<text x="54.20" y="388.70" class="t" text-anchor="end">40</text>
<line x1="55.6" y1="369.05" x2="58.6" y2="369.05" class="a"/>
<text x="54.20" y="372.65" class="t" text-anchor="end">60</text>
<line x1="55.6" y1="353.00" x2="58.6" y2="353.00" class="a"/>
<text x="54.20" y="356.60" class="t" text-anchor="end">80</text>
<line x1="55.6" y1="336.95" x2="58.6" y2="336.95" class="a"/>
<text x="54.20" y="340.55" class="t" text-anchor="end">100</text>
<line x1="55.6" y1="320.90" x2="58.6" y2="320.90" class="a"/>
<text x="54.20" y="324.50" class="t" text-anchor="end">120</text>
<line x1="58.6" y1="417.2" x2="58.6" y2="420.0" class="a"/>
<text x="58.10" y="429.80" class="t" text-anchor="middle">0</text>
<line x1="88" y1="417.2" x2="88" y2="420.0" class="a"/>
<text x="87.50" y="429.80" class="t" text-anchor="middle">0.1</text>
<line x1="117.1" y1="417.2" x2="117.1" y2="420.0" class="a"/>
<text x="116.60" y="429.80" class="t" text-anchor="middle">1</text>
<line x1="146.2" y1="417.2" x2="146.2" y2="420.0" class="a"/>
<text x="145.70" y="429.80" class="t" text-anchor="middle">10</text>
<line x1="175.4" y1="417.2" x2="175.4" y2="420.0" class="a"/>
<text x="174.90" y="429.80" class="t" text-anchor="middle">100</text>
<path d="M58.6 336.74 L59.1 336.74 L59.6 336.74 L60.1 336.74 L60.6 336.74 L61.1 336.74 L61.6 336.74 L62.1 336.75 L62.6 336.75 L63.1 336.75 L63.6 336.75 L64.1 336.75 L64.6 336.75 L65.1 336.75 L65.6 336.75 L66.1 336.75 L66.6 336.76 L67.1 336.76 L67.6 336.76 L68.1 336.76 L68.6 336.76 L69.1 336.76 L69.6 336.77 L70.1 336.77 L70.6 336.77 L71.1 336.77 L71.6 336.77 L72.1 336.78 L72.6 336.78 L73.1 336.78 L73.6 336.79 L74.1 336.79 L74.6 336.79 L75.1 336.80 L75.6 336.80 L76.1 336.80 L76.6 336.81 L77.1 336.81 L77.6 336.82 L78.1 336.82 L78.6 336.82 L79.1 336.83 L79.6 336.84 L80.1 336.84 L80.6 336.85 L81.1 336.85 L81.6 336.86 L82.1 336.87 L82.6 336.87 L83.1 336.88 L83.6 336.89 L84.1 336.90 L84.6 336.91 L85.1 336.92 L85.6 336.93 L86.1 336.94 L86.6 336.95 L87.1 336.96 L87.6 336.97 L88.1 336.99 L88.6 337.00 L89.1 337.01 L89.6 337.03 L90.1 337.05 L90.6 337.06 L91.1 337.08 L91.6 337.10 L92.1 337.12 L92.6 337.14 L93.1 337.16 L93.6 337.18 L94.1 337.21 L94.6 337.23 L95.1 337.26 L95.6 337.29 L96.1 337.32 L96.6 337.35 L97.1 337.38 L97.6 337.42 L98.1 337.45 L98.6 337.49 L99.1 337.53 L99.6 337.58 L100.1 337.62 L100.6 337.67 L101.1 337.72 L101.6 337.77 L102.1 337.82 L102.6 337.88 L103.1 337.94 L103.6 338.00 L104.1 338.07 L104.6 338.14 L105.1 338.21 L105.6 338.29 L106.1 338.37 L106.6 338.46 L107.1 338.55 L107.6 338.64 L108.1 338.74 L108.6 338.84 L109.1 338.95 L109.6 339.07 L110.1 339.19 L110.6 339.31 L111.1 339.45 L111.6 339.58 L112.1 339.73 L112.6 339.88 L113.1 340.04 L113.6 340.21 L114.1 340.38 L114.6 340.56 L115.1 340.75 L115.6 340.95 L116.1 341.16 L116.6 341.38 L117.1 341.61 L117.6 341.85 L118.1 342.10 L118.6 342.36 L119.1 342.63 L119.6 342.91 L120.1 343.21 L120.6 343.51 L121.1 343.83 L121.6 344.17 L122.1 344.51 L122.6 344.87 L123.1 345.24 L123.6 345.63 L124.1 346.03 L124.6 346.45 L125.1 346.88 L125.6 347.33 L126.1 347.79 L126.6 348.26 L127.1 348.76 L127.6 349.26 L128.1 349.79 L128.6 350.33 L129.1 350.88 L129.6 351.45 L130.1 352.03 L130.6 352.63 L131.1 353.25 L131.6 353.88 L132.1 354.52 L132.6 355.18 L133.1 355.84 L133.6 356.53 L134.1 357.22 L134.6 357.93 L135.1 358.64 L135.6 359.37 L136.1 360.10 L136.6 360.85 L137.1 361.60 L137.6 362.35 L138.1 363.12 L138.6 363.88 L139.1 364.65 L139.6 365.43 L140.1 366.20 L140.6 366.98 L141.1 367.75 L141.6 368.52 L142.1 369.29 L142.6 370.06 L143.1 370.82 L143.6 371.57 L144.1 372.32 L144.6 373.06 L145.1 373.80 L145.6 374.52 L146.1 375.23 L146.6 375.93 L147.1 376.62 L147.6 377.30 L148.1 377.97 L148.6 378.62 L149.1 379.26 L149.6 379.88 L150.1 380.49 L150.6 381.09 L151.1 381.67 L151.6 382.23 L152.1 382.78 L152.6 383.32 L153.1 383.84 L153.6 384.34 L154.1 384.83 L154.6 385.30 L155.1 385.76 L155.6 386.20 L156.1 386.63 L156.6 387.04 L157.1 387.43 L157.6 387.82 L158.1 388.19 L158.6 388.54 L159.1 388.88 L159.6 389.21 L160.1 389.53 L160.6 389.83 L161.1 390.12 L161.6 390.40 L162.1 390.67 L162.6 390.93 L163.1 391.17 L163.6 391.41 L164.1 391.63 L164.6 391.85 L165.1 392.06 L165.6 392.25 L166.1 392.44 L166.6 392.62 L167.1 392.80 L167.6 392.96 L168.1 393.12 L168.6 393.27 L169.1 393.41 L169.6 393.55 L170.1 393.68 L170.6 393.80 L171.1 393.92 L171.6 394.03 L172.1 394.14 L172.6 394.24 L173.1 394.34" class="c"/>
<path d="M58.6 336.59 L59.1 336.61 L59.6 336.63 L60.1 336.65 L60.6 336.66 L61.1 336.68 L61.6 336.71 L62.1 336.73 L62.6 336.75 L63.1 336.77 L63.6 336.80 L64.1 336.82 L64.6 336.85 L65.1 336.87 L65.6 336.90 L66.1 336.93 L66.6 336.96 L67.1 336.99 L67.6 337.02 L68.1 337.05 L68.6 337.08 L69.1 337.12 L69.6 337.15 L70.1 337.19 L70.6 337.23 L71.1 337.26 L71.6 337.30 L72.1 337.35 L72.6 337.39 L73.1 337.43 L73.6 337.48 L74.1 337.53 L74.6 337.58 L75.1 337.63 L75.6 337.68 L76.1 337.73 L76.6 337.79 L77.1 337.85 L77.6 337.90 L78.1 337.97 L78.6 338.03 L79.1 338.09 L79.6 338.16 L80.1 338.23 L80.6 338.30 L81.1 338.38 L81.6 338.45 L82.1 338.53 L82.6 338.61 L83.1 338.70 L83.6 338.79 L84.1 338.88 L84.6 338.97 L85.1 339.06 L85.6 339.16 L86.1 339.26 L86.6 339.37 L87.1 339.48 L87.6 339.59 L88.1 339.70 L88.6 339.82 L89.1 339.94 L89.6 340.07 L90.1 340.20 L90.6 340.33 L91.1 340.47 L91.6 340.61 L92.1 340.75 L92.6 340.90 L93.1 341.06 L93.6 341.22 L94.1 341.38 L94.6 341.55 L95.1 341.72 L95.6 341.90 L96.1 342.08 L96.6 342.27 L97.1 342.47 L97.6 342.67 L98.1 342.87 L98.6 343.08 L99.1 343.30 L99.6 343.52 L100.1 343.75 L100.6 343.98 L101.1 344.23 L101.6 344.47 L102.1 344.73 L102.6 344.99 L103.1 345.25 L103.6 345.53 L104.1 345.81 L104.6 346.10 L105.1 346.39 L105.6 346.69 L106.1 347.00 L106.6 347.32 L107.1 347.64 L107.6 347.97 L108.1 348.31 L108.6 348.66 L109.1 349.01 L109.6 349.38 L110.1 349.75 L110.6 350.12 L111.1 350.51 L111.6 350.90 L112.1 351.30 L112.6 351.71 L113.1 352.13 L113.6 352.55 L114.1 352.99 L114.6 353.43 L115.1 353.88 L115.6 354.33 L116.1 354.79 L116.6 355.27 L117.1 355.74 L117.6 356.23 L118.1 356.72 L118.6 357.22 L119.1 357.73 L119.6 358.24 L120.1 358.76 L120.6 359.29 L121.1 359.82 L121.6 360.36 L122.1 360.91 L122.6 361.46 L123.1 362.01 L123.6 362.57 L124.1 363.14 L124.6 363.71 L125.1 364.29 L125.6 364.86 L126.1 365.45 L126.6 366.03 L127.1 366.62 L127.6 367.22 L128.1 367.81 L128.6 368.41 L129.1 369.01 L129.6 369.61 L130.1 370.21 L130.6 370.82 L131.1 371.42 L131.6 372.02 L132.1 372.63 L132.6 373.23 L133.1 373.83 L133.6 374.43 L134.1 375.03 L134.6 375.63 L135.1 376.23 L135.6 376.82 L136.1 377.41 L136.6 378.00 L137.1 378.58 L137.6 379.16 L138.1 379.74 L138.6 380.31 L139.1 380.88 L139.6 381.44 L140.1 382.00 L140.6 382.55 L141.1 383.10 L141.6 383.64 L142.1 384.18 L142.6 384.70 L143.1 385.23 L143.6 385.74 L144.1 386.25 L144.6 386.75 L145.1 387.25 L145.6 387.73 L146.1 388.22 L146.6 388.69 L147.1 389.15 L147.6 389.61 L148.1 390.06 L148.6 390.50 L149.1 390.94 L149.6 391.37 L150.1 391.79 L150.6 392.20 L151.1 392.60 L151.6 393.00 L152.1 393.38 L152.6 393.76 L153.1 394.14 L153.6 394.50 L154.1 394.86 L154.6 395.21 L155.1 395.55 L155.6 395.88 L156.1 396.21 L156.6 396.53 L157.1 396.84 L157.6 397.14 L158.1 397.44 L158.6 397.73 L159.1 398.01 L159.6 398.29 L160.1 398.56 L160.6 398.82 L161.1 399.07 L161.6 399.32 L162.1 399.57 L162.6 399.80 L163.1 400.03 L163.6 400.26 L164.1 400.48 L164.6 400.69 L165.1 400.90 L165.6 401.10 L166.1 401.29 L166.6 401.48 L167.1 401.67 L167.6 401.85 L168.1 402.02 L168.6 402.19 L169.1 402.36 L169.6 402.52 L170.1 402.67 L170.6 402.83 L171.1 402.97 L171.6 403.11 L172.1 403.25 L172.6 403.39 L173.1 403.52" class="c"/>
<line x1="85.5" y1="332.8" x2="85.5" y2="342.9" class="e"/>
<line x1="83.5" y1="332.8" x2="87.5" y2="332.8" class="e"/>
<line x1="83.5" y1="342.9" x2="87.5" y2="342.9" class="e"/>
<line x1="100.3" y1="333.5" x2="100.3" y2="355.3" class="e"/>
<line x1="98.3" y1="333.5" x2="102.3" y2="333.5" class="e"/>
<line x1="98.3" y1="355.3" x2="102.3" y2="355.3" class="e"/>
<line x1="114.6" y1="334.1" x2="114.6" y2="357.7" class="e"/>
<line x1="112.6" y1="334.1" x2="116.6" y2="334.1" class="e"/>
<line x1="112.6" y1="357.7" x2="116.6" y2="357.7" class="e"/>
<line x1="129.7" y1="363.8" x2="129.7" y2="373.1" class="e"/>
<line x1="127.69999999999999" y1="363.8" x2="131.7" y2="363.8" class="e"/>
<line x1="127.69999999999999" y1="373.1" x2="131.7" y2="373.1" class="e"/>
<line x1="143.8" y1="384.6" x2="143.8" y2="393.1" class="e"/>
<line x1="141.8" y1="384.6" x2="145.8" y2="384.6" class="e"/>
<line x1="141.8" y1="393.1" x2="145.8" y2="393.1" class="e"/>
<line x1="158.9" y1="383.8" x2="158.9" y2="406.5" class="e"/>
<line x1="156.9" y1="383.8" x2="160.9" y2="383.8" class="e"/>
<line x1="156.9" y1="406.5" x2="160.9" y2="406.5" class="e"/>
<line x1="173.1" y1="384.6" x2="173.1" y2="409.2" class="e"/>
<line x1="171.1" y1="384.6" x2="175.1" y2="384.6" class="e"/>
<line x1="171.1" y1="409.2" x2="175.1" y2="409.2" class="e"/>
<rect x="83.40" y="334.10" width="4.2" height="4.2" class="mf"/>
<ellipse cx="85.5" cy="338.6" rx="1.6" ry="2.0" class="mo"/>
<rect x="98.20" y="335.10" width="4.2" height="4.2" class="mf"/>
<ellipse cx="100.3" cy="346.2" rx="1.6" ry="2.0" class="mo"/>
<rect x="112.50" y="339.70" width="4.2" height="4.2" class="mf"/>
<ellipse cx="114.6" cy="354.6" rx="1.6" ry="2.0" class="mo"/>
<rect x="127.60" y="349.00" width="4.2" height="4.2" class="mf"/>
<ellipse cx="129.7" cy="368.5" rx="1.6" ry="2.0" class="mo"/>
<rect x="141.70" y="370.20" width="4.2" height="4.2" class="mf"/>
<ellipse cx="143.8" cy="388.5" rx="1.6" ry="2.0" class="mo"/>
<rect x="156.80" y="386.40" width="4.2" height="4.2" class="mf"/>
<ellipse cx="158.9" cy="398.5" rx="1.6" ry="2.0" class="mo"/>
<rect x="171.00" y="392.10" width="4.2" height="4.2" class="mf"/>
<ellipse cx="173.1" cy="403.1" rx="1.6" ry="2.0" class="mo"/>
<line x1="200.3" y1="320.8" x2="200.3" y2="420.40000000000003" class="a"/>
<line x1="199.70000000000002" y1="417.6" x2="348" y2="417.6" class="a"/>
<line x1="197.3" y1="417.60" x2="200.3" y2="417.60" class="a"/>
<line x1="197.3" y1="401.47" x2="200.3" y2="401.47" class="a"/>
<line x1="197.3" y1="385.33" x2="200.3" y2="385.33" class="a"/>
<line x1="197.3" y1="369.20" x2="200.3" y2="369.20" class="a"/>
<line x1="197.3" y1="353.07" x2="200.3" y2="353.07" class="a"/>
<line x1="197.3" y1="336.93" x2="200.3" y2="336.93" class="a"/>
<line x1="197.3" y1="320.80" x2="200.3" y2="320.80" class="a"/>
<line x1="200.3" y1="417.6" x2="200.3" y2="420.40000000000003" class="a"/>
<text x="199.80" y="430.20" class="t" text-anchor="middle">0</text>
<line x1="237.3" y1="417.6" x2="237.3" y2="420.40000000000003" class="a"/>
<text x="236.80" y="430.20" class="t" text-anchor="middle">0.01</text>
<line x1="274.4" y1="417.6" x2="274.4" y2="420.40000000000003" class="a"/>
<text x="273.90" y="430.20" class="t" text-anchor="middle">0.1</text>
<line x1="311.1" y1="417.6" x2="311.1" y2="420.40000000000003" class="a"/>
<text x="310.60" y="430.20" class="t" text-anchor="middle">1</text>
<line x1="348" y1="417.6" x2="348" y2="420.40000000000003" class="a"/>
<text x="347.50" y="430.20" class="t" text-anchor="middle">10</text>
<path d="M200.3 332.80 L200.8 332.81 L201.3 332.82 L201.8 332.82 L202.3 332.83 L202.8 332.84 L203.3 332.85 L203.8 332.86 L204.3 332.86 L204.8 332.87 L205.3 332.88 L205.8 332.89 L206.3 332.90 L206.8 332.92 L207.3 332.93 L207.8 332.94 L208.3 332.95 L208.8 332.96 L209.3 332.98 L209.8 332.99 L210.3 333.01 L210.8 333.02 L211.3 333.04 L211.8 333.06 L212.3 333.07 L212.8 333.09 L213.3 333.11 L213.8 333.13 L214.3 333.15 L214.8 333.17 L215.3 333.19 L215.8 333.22 L216.3 333.24 L216.8 333.27 L217.3 333.29 L217.8 333.32 L218.3 333.35 L218.8 333.38 L219.3 333.41 L219.8 333.44 L220.3 333.48 L220.8 333.51 L221.3 333.55 L221.8 333.59 L222.3 333.62 L222.8 333.67 L223.3 333.71 L223.8 333.75 L224.3 333.80 L224.8 333.85 L225.3 333.90 L225.8 333.95 L226.3 334.01 L226.8 334.06 L227.3 334.12 L227.8 334.18 L228.3 334.25 L228.8 334.31 L229.3 334.38 L229.8 334.46 L230.3 334.53 L230.8 334.61 L231.3 334.69 L231.8 334.77 L232.3 334.86 L232.8 334.95 L233.3 335.05 L233.8 335.15 L234.3 335.25 L234.8 335.36 L235.3 335.47 L235.8 335.58 L236.3 335.70 L236.8 335.83 L237.3 335.95 L237.8 336.09 L238.3 336.23 L238.8 336.37 L239.3 336.52 L239.8 336.68 L240.3 336.84 L240.8 337.00 L241.3 337.18 L241.8 337.36 L242.3 337.54 L242.8 337.74 L243.3 337.94 L243.8 338.14 L244.3 338.36 L244.8 338.58 L245.3 338.81 L245.8 339.05 L246.3 339.29 L246.8 339.55 L247.3 339.81 L247.8 340.08 L248.3 340.36 L248.8 340.65 L249.3 340.95 L249.8 341.26 L250.3 341.58 L250.8 341.91 L251.3 342.25 L251.8 342.60 L252.3 342.96 L252.8 343.33 L253.3 343.71 L253.8 344.10 L254.3 344.50 L254.8 344.92 L255.3 345.34 L255.8 345.78 L256.3 346.22 L256.8 346.68 L257.3 347.15 L257.8 347.64 L258.3 348.13 L258.8 348.63 L259.3 349.15 L259.8 349.67 L260.3 350.21 L260.8 350.76 L261.3 351.32 L261.8 351.89 L262.3 352.47 L262.8 353.06 L263.3 353.66 L263.8 354.27 L264.3 354.89 L264.8 355.52 L265.3 356.16 L265.8 356.80 L266.3 357.46 L266.8 358.12 L267.3 358.78 L267.8 359.46 L268.3 360.14 L268.8 360.82 L269.3 361.51 L269.8 362.21 L270.3 362.91 L270.8 363.61 L271.3 364.31 L271.8 365.02 L272.3 365.73 L272.8 366.44 L273.3 367.14 L273.8 367.85 L274.3 368.56 L274.8 369.27 L275.3 369.97 L275.8 370.67 L276.3 371.37 L276.8 372.06 L277.3 372.75 L277.8 373.43 L278.3 374.11 L278.8 374.78 L279.3 375.44 L279.8 376.10 L280.3 376.75 L280.8 377.39 L281.3 378.03 L281.8 378.65 L282.3 379.27 L282.8 379.87 L283.3 380.47 L283.8 381.06 L284.3 381.63 L284.8 382.20 L285.3 382.75 L285.8 383.30 L286.3 383.83 L286.8 384.35 L287.3 384.86 L287.8 385.36 L288.3 385.85 L288.8 386.33 L289.3 386.79 L289.8 387.25 L290.3 387.69 L290.8 388.12 L291.3 388.54 L291.8 388.95 L292.3 389.35 L292.8 389.74 L293.3 390.11 L293.8 390.48 L294.3 390.83 L294.8 391.18 L295.3 391.51 L295.8 391.84 L296.3 392.15 L296.8 392.46 L297.3 392.75 L297.8 393.04 L298.3 393.31 L298.8 393.58 L299.3 393.84 L299.8 394.09 L300.3 394.34 L300.8 394.57 L301.3 394.80 L301.8 395.02 L302.3 395.23 L302.8 395.43 L303.3 395.63 L303.8 395.82 L304.3 396.00 L304.8 396.18 L305.3 396.35 L305.8 396.51 L306.3 396.67 L306.8 396.83 L307.3 396.97 L307.8 397.11 L308.3 397.25 L308.8 397.38 L309.3 397.51 L309.8 397.63 L310.3 397.75 L310.8 397.86 L311.3 397.97 L311.8 398.08 L312.3 398.18 L312.8 398.27 L313.3 398.37 L313.8 398.46 L314.3 398.54 L314.8 398.63 L315.3 398.71 L315.8 398.78 L316.3 398.86 L316.8 398.93 L317.3 399.00 L317.8 399.06 L318.3 399.13 L318.8 399.19 L319.3 399.24 L319.8 399.30 L320.3 399.35 L320.8 399.41 L321.3 399.45 L321.8 399.50 L322.3 399.55 L322.8 399.59 L323.3 399.63 L323.8 399.67 L324.3 399.71 L324.8 399.75 L325.3 399.79 L325.8 399.82 L326.3 399.85 L326.8 399.89 L327.3 399.92 L327.8 399.95 L328.3 399.97 L328.8 400.00 L329.3 400.03 L329.8 400.05 L330.3 400.08 L330.8 400.10 L331.3 400.12 L331.8 400.14 L332.3 400.16 L332.8 400.18 L333.3 400.20 L333.8 400.22 L334.3 400.23 L334.8 400.25 L335.3 400.27 L335.8 400.28 L336.3 400.30 L336.6 400.30" class="c"/>
<path d="M200.3 332.60 L200.8 332.61 L201.3 332.62 L201.8 332.63 L202.3 332.64 L202.8 332.66 L203.3 332.67 L203.8 332.69 L204.3 332.70 L204.8 332.72 L205.3 332.73 L205.8 332.75 L206.3 332.77 L206.8 332.79 L207.3 332.82 L207.8 332.84 L208.3 332.87 L208.8 332.89 L209.3 332.92 L209.8 332.95 L210.3 332.99 L210.8 333.02 L211.3 333.06 L211.8 333.10 L212.3 333.14 L212.8 333.18 L213.3 333.23 L213.8 333.28 L214.3 333.34 L214.8 333.39 L215.3 333.46 L215.8 333.52 L216.3 333.59 L216.8 333.66 L217.3 333.74 L217.8 333.83 L218.3 333.91 L218.8 334.01 L219.3 334.11 L219.8 334.22 L220.3 334.33 L220.8 334.45 L221.3 334.58 L221.8 334.71 L222.3 334.86 L222.8 335.01 L223.3 335.17 L223.8 335.34 L224.3 335.53 L224.8 335.72 L225.3 335.93 L225.8 336.14 L226.3 336.37 L226.8 336.62 L227.3 336.88 L227.8 337.15 L228.3 337.44 L228.8 337.74 L229.3 338.06 L229.8 338.40 L230.3 338.76 L230.8 339.14 L231.3 339.54 L231.8 339.96 L232.3 340.40 L232.8 340.87 L233.3 341.36 L233.8 341.87 L234.3 342.41 L234.8 342.97 L235.3 343.56 L235.8 344.18 L236.3 344.83 L236.8 345.50 L237.3 346.20 L237.8 346.94 L238.3 347.70 L238.8 348.49 L239.3 349.31 L239.8 350.16 L240.3 351.03 L240.8 351.94 L241.3 352.88 L241.8 353.84 L242.3 354.83 L242.8 355.85 L243.3 356.89 L243.8 357.96 L244.3 359.04 L244.8 360.15 L245.3 361.28 L245.8 362.42 L246.3 363.58 L246.8 364.76 L247.3 365.94 L247.8 367.13 L248.3 368.33 L248.8 369.53 L249.3 370.74 L249.8 371.94 L250.3 373.14 L250.8 374.33 L251.3 375.52 L251.8 376.69 L252.3 377.85 L252.8 379.00 L253.3 380.13 L253.8 381.24 L254.3 382.33 L254.8 383.40 L255.3 384.45 L255.8 385.47 L256.3 386.46 L256.8 387.43 L257.3 388.37 L257.8 389.28 L258.3 390.17 L258.8 391.02 L259.3 391.84 L259.8 392.64 L260.3 393.40 L260.8 394.14 L261.3 394.85 L261.8 395.52 L262.3 396.17 L262.8 396.80 L263.3 397.39 L263.8 397.96 L264.3 398.50 L264.8 399.02 L265.3 399.51 L265.8 399.98 L266.3 400.42 L266.8 400.85 L267.3 401.25 L267.8 401.63 L268.3 401.99 L268.8 402.34 L269.3 402.66 L269.8 402.97 L270.3 403.26 L270.8 403.54 L271.3 403.80 L271.8 404.04 L272.3 404.27 L272.8 404.49 L273.3 404.70 L273.8 404.90 L274.3 405.08 L274.8 405.25 L275.3 405.42 L275.8 405.57 L276.3 405.72 L276.8 405.85 L277.3 405.98 L277.8 406.10 L278.3 406.22 L278.8 406.33 L279.3 406.43 L279.8 406.52 L280.3 406.61 L280.8 406.70 L281.3 406.77 L281.8 406.85 L282.3 406.92 L282.8 406.98 L283.3 407.05 L283.8 407.10 L284.3 407.16 L284.8 407.21 L285.3 407.26 L285.8 407.30 L286.3 407.35 L286.8 407.39 L287.3 407.42 L287.8 407.46 L288.3 407.49 L288.8 407.52 L289.3 407.55 L289.8 407.58 L290.3 407.61 L290.8 407.63 L291.3 407.65 L291.8 407.67 L292.3 407.69 L292.8 407.71 L293.3 407.73 L293.8 407.75 L294.3 407.76 L294.8 407.78 L295.3 407.79 L295.8 407.80 L296.3 407.82 L296.8 407.83 L297.3 407.84 L297.8 407.85 L298.3 407.86 L298.8 407.87 L299.3 407.87 L299.8 407.88 L300.3 407.89 L300.8 407.90 L301.3 407.90 L301.8 407.91 L302.3 407.91 L302.8 407.92 L303.3 407.92 L303.8 407.93 L304.3 407.93 L304.8 407.94 L305.3 407.94 L305.8 407.94 L306.3 407.95 L306.8 407.95 L307.3 407.95 L307.8 407.96 L308.3 407.96 L308.8 407.96 L309.3 407.96 L309.8 407.97 L310.3 407.97 L310.8 407.97 L311.3 407.97 L311.8 407.97 L312.3 407.97 L312.8 407.98 L313.3 407.98 L313.8 407.98 L314.3 407.98 L314.8 407.98 L315.3 407.98 L315.8 407.98 L316.3 407.98 L316.8 407.99 L317.3 407.99 L317.8 407.99 L318.3 407.99 L318.8 407.99 L319.3 407.99 L319.8 407.99 L320.3 407.99 L320.8 407.99 L321.3 407.99 L321.8 407.99 L322.3 407.99 L322.8 407.99 L323.3 407.99 L323.8 407.99 L324.3 407.99 L324.8 407.99 L325.3 407.99 L325.8 407.99 L326.3 407.99 L326.8 407.99 L327.3 407.99 L327.8 408.00 L328.3 408.00 L328.8 408.00 L329.3 408.00 L329.8 408.00 L330.3 408.00 L330.8 408.00 L331.3 408.00 L331.8 408.00 L332.3 408.00 L332.8 408.00 L333.3 408.00 L333.8 408.00 L334.3 408.00 L334.8 408.00 L335.3 408.00 L335.8 408.00 L336.3 408.00 L336.6 408.00" class="c"/>
<line x1="200" y1="333.7" x2="200" y2="340.9" class="e"/>
<line x1="198" y1="333.7" x2="202" y2="333.7" class="e"/>
<line x1="198" y1="340.9" x2="202" y2="340.9" class="e"/>
<line x1="226" y1="327" x2="226" y2="336" class="e"/>
<line x1="224" y1="327" x2="228" y2="327" class="e"/>
<line x1="224" y1="336" x2="228" y2="336" class="e"/>
<line x1="245.3" y1="356.9" x2="245.3" y2="370.7" class="e"/>
<line x1="243.3" y1="356.9" x2="247.3" y2="356.9" class="e"/>
<line x1="243.3" y1="370.7" x2="247.3" y2="370.7" class="e"/>
<line x1="282.3" y1="376" x2="282.3" y2="384.4" class="e"/>
<line x1="280.3" y1="376" x2="284.3" y2="376" class="e"/>
<line x1="280.3" y1="384.4" x2="284.3" y2="384.4" class="e"/>
<line x1="300.3" y1="388.7" x2="300.3" y2="396.8" class="e"/>
<line x1="298.3" y1="388.7" x2="302.3" y2="388.7" class="e"/>
<line x1="298.3" y1="396.8" x2="302.3" y2="396.8" class="e"/>
<line x1="300.3" y1="400.5" x2="300.3" y2="416.3" class="e"/>
<line x1="298.3" y1="400.5" x2="302.3" y2="400.5" class="e"/>
<line x1="298.3" y1="416.3" x2="302.3" y2="416.3" class="e"/>
<line x1="319.3" y1="394.5" x2="319.3" y2="402.9" class="e"/>
<line x1="317.3" y1="394.5" x2="321.3" y2="394.5" class="e"/>
<line x1="317.3" y1="402.9" x2="321.3" y2="402.9" class="e"/>
<line x1="319.3" y1="406.2" x2="319.3" y2="413" class="e"/>
<line x1="317.3" y1="406.2" x2="321.3" y2="406.2" class="e"/>
<line x1="317.3" y1="413" x2="321.3" y2="413" class="e"/>
<line x1="336.6" y1="399.9" x2="336.6" y2="405" class="e"/>
<line x1="334.6" y1="399.9" x2="338.6" y2="399.9" class="e"/>
<line x1="334.6" y1="405" x2="338.6" y2="405" class="e"/>
<line x1="336.6" y1="408" x2="336.6" y2="416.3" class="e"/>
<line x1="334.6" y1="408" x2="338.6" y2="408" class="e"/>
<line x1="334.6" y1="416.3" x2="338.6" y2="416.3" class="e"/>
<circle cx="200.2" cy="337.1" r="2.3" class="mf"/>
<rect x="223.90" y="329.60" width="4.2" height="4.2" class="mf"/>
<rect x="243.30" y="335.60" width="3.6" height="3.6" class="mo"/>
<rect x="243.20" y="361.40" width="4.2" height="4.2" class="mf"/>
<rect x="261.50" y="353.00" width="3.6" height="3.6" class="mo"/>
<rect x="260.70" y="394.00" width="4.2" height="4.2" class="mf"/>
<rect x="280.50" y="378.00" width="3.6" height="3.6" class="mo"/>
<rect x="280.20" y="400.90" width="4.2" height="4.2" class="mf"/>
<rect x="298.50" y="391.00" width="3.6" height="3.6" class="mo"/>
<circle cx="300.3" cy="408" r="2.3" class="mf"/>
<rect x="317.50" y="397.00" width="3.6" height="3.6" class="mo"/>
<circle cx="319.3" cy="408.9" r="2.3" class="mf"/>
<rect x="334.80" y="400.80" width="3.6" height="3.6" class="mo"/>
<circle cx="336.6" cy="410.7" r="2.3" class="mf"/>
<line x1="365.8" y1="326.8" x2="365.8" y2="420.40000000000003" class="a"/>
<line x1="365.2" y1="417.6" x2="495.8" y2="417.6" class="a"/>
<line x1="362.8" y1="417.60" x2="365.8" y2="417.60" class="a"/>
<line x1="362.8" y1="402.47" x2="365.8" y2="402.47" class="a"/>
<line x1="362.8" y1="387.33" x2="365.8" y2="387.33" class="a"/>
<line x1="362.8" y1="372.20" x2="365.8" y2="372.20" class="a"/>
<line x1="362.8" y1="357.07" x2="365.8" y2="357.07" class="a"/>
<line x1="362.8" y1="341.93" x2="365.8" y2="341.93" class="a"/>
<line x1="362.8" y1="326.80" x2="365.8" y2="326.80" class="a"/>
<line x1="365.8" y1="417.6" x2="365.8" y2="420.40000000000003" class="a"/>
<text x="365.30" y="430.20" class="t" text-anchor="middle">0</text>
<line x1="398.3" y1="417.6" x2="398.3" y2="420.40000000000003" class="a"/>
<text x="397.80" y="430.20" class="t" text-anchor="middle">0.01</text>
<line x1="431.2" y1="417.6" x2="431.2" y2="420.40000000000003" class="a"/>
<text x="430.70" y="430.20" class="t" text-anchor="middle">0.1</text>
<line x1="463.5" y1="417.6" x2="463.5" y2="420.40000000000003" class="a"/>
<text x="463.00" y="430.20" class="t" text-anchor="middle">1</text>
<line x1="495.8" y1="417.6" x2="495.8" y2="420.40000000000003" class="a"/>
<text x="495.30" y="430.20" class="t" text-anchor="middle">10</text>
<path d="M365.8 336.83 L366.3 336.83 L366.8 336.83 L367.3 336.83 L367.8 336.83 L368.3 336.83 L368.8 336.83 L369.3 336.83 L369.8 336.83 L370.3 336.83 L370.8 336.83 L371.3 336.83 L371.8 336.83 L372.3 336.83 L372.8 336.83 L373.3 336.83 L373.8 336.83 L374.3 336.83 L374.8 336.83 L375.3 336.83 L375.8 336.83 L376.3 336.83 L376.8 336.83 L377.3 336.83 L377.8 336.83 L378.3 336.83 L378.8 336.83 L379.3 336.83 L379.8 336.83 L380.3 336.83 L380.8 336.83 L381.3 336.83 L381.8 336.83 L382.3 336.83 L382.8 336.83 L383.3 336.83 L383.8 336.83 L384.3 336.83 L384.8 336.83 L385.3 336.83 L385.8 336.83 L386.3 336.83 L386.8 336.83 L387.3 336.83 L387.8 336.83 L388.3 336.83 L388.8 336.83 L389.3 336.83 L389.8 336.83 L390.3 336.83 L390.8 336.83 L391.3 336.83 L391.8 336.83 L392.3 336.83 L392.8 336.83 L393.3 336.83 L393.8 336.83 L394.3 336.83 L394.8 336.83 L395.3 336.83 L395.8 336.83 L396.3 336.83 L396.8 336.83 L397.3 336.83 L397.8 336.83 L398.3 336.83 L398.8 336.83 L399.3 336.83 L399.8 336.83 L400.3 336.83 L400.8 336.83 L401.3 336.83 L401.8 336.83 L402.3 336.83 L402.8 336.83 L403.3 336.83 L403.8 336.83 L404.3 336.83 L404.8 336.83 L405.3 336.83 L405.8 336.83 L406.3 336.83 L406.8 336.83 L407.3 336.83 L407.8 336.83 L408.3 336.83 L408.8 336.83 L409.3 336.83 L409.8 336.83 L410.3 336.83 L410.8 336.83 L411.3 336.83 L411.8 336.83 L412.3 336.83 L412.8 336.83 L413.3 336.84 L413.8 336.84 L414.3 336.85 L414.8 336.87 L415.3 336.91 L415.8 336.96 L416.3 337.07 L416.8 337.25 L417.3 337.56 L417.8 338.11 L418.3 339.06 L418.8 340.67 L419.3 343.33 L419.8 347.54 L420.3 353.76 L420.8 362.10 L421.3 371.92 L421.8 381.84 L422.3 390.46 L422.8 396.99 L423.3 401.46 L423.8 404.31 L424.3 406.04 L424.8 407.06 L425.3 407.65 L425.8 408.00 L426.3 408.19 L426.8 408.30 L427.3 408.37 L427.8 408.40 L428.3 408.42 L428.8 408.43 L429.3 408.44 L429.8 408.44 L430.3 408.45 L430.8 408.45 L431.3 408.45 L431.8 408.45 L432.3 408.45 L432.8 408.45 L433.3 408.45 L433.8 408.45 L434.3 408.45 L434.8 408.45 L435.3 408.45 L435.8 408.45 L436.3 408.45 L436.8 408.45 L437.3 408.45 L437.8 408.45 L438.3 408.45 L438.8 408.45 L439.3 408.45 L439.8 408.45 L440.3 408.45 L440.8 408.45 L441.3 408.45 L441.8 408.45 L442.3 408.45 L442.8 408.45 L443.3 408.45 L443.8 408.45 L444.3 408.45 L444.8 408.45 L445.3 408.45 L445.8 408.45 L446.3 408.45 L446.8 408.45 L447.3 408.45 L447.8 408.45 L448.3 408.45 L448.8 408.45 L449.3 408.45 L449.8 408.45 L450.3 408.45 L450.8 408.45 L451.3 408.45 L451.8 408.45 L452.3 408.45 L452.8 408.45 L453.3 408.45 L453.8 408.45 L454.3 408.45 L454.8 408.45 L455.3 408.45 L455.8 408.45 L456.3 408.45 L456.8 408.45 L457.3 408.45 L457.8 408.45 L458.3 408.45 L458.8 408.45 L459.3 408.45 L459.8 408.45 L460.3 408.45 L460.8 408.45 L461.3 408.45 L461.8 408.45 L462.3 408.45 L462.8 408.45 L463.3 408.45 L463.8 408.45 L464.3 408.45 L464.8 408.45 L465.3 408.45 L465.8 408.45 L466.3 408.45 L466.8 408.45 L467.3 408.45 L467.8 408.45 L468.3 408.45 L468.8 408.45 L469.3 408.45 L469.8 408.45 L470.3 408.45 L470.8 408.45 L471.3 408.45 L471.8 408.45 L472.3 408.45 L472.8 408.45 L473.3 408.45 L473.8 408.45 L474.3 408.45 L474.8 408.45 L475.3 408.45 L475.8 408.45 L476.3 408.45 L476.8 408.45 L477.3 408.45 L477.8 408.45 L478.3 408.45 L478.8 408.45 L479.3 408.45 L479.8 408.45 L480.3 408.45 L480.8 408.45 L481.3 408.45 L481.8 408.45 L482.3 408.45 L482.8 408.45 L483.3 408.45 L483.8 408.45 L484.3 408.45 L484.8 408.45 L485.3 408.45 L485.8 408.45 L486.1 408.45" class="c"/>
<path d="M365.8 337.89 L366.3 337.89 L366.8 337.89 L367.3 337.89 L367.8 337.89 L368.3 337.90 L368.8 337.90 L369.3 337.90 L369.8 337.90 L370.3 337.90 L370.8 337.90 L371.3 337.90 L371.8 337.91 L372.3 337.91 L372.8 337.91 L373.3 337.91 L373.8 337.92 L374.3 337.92 L374.8 337.92 L375.3 337.92 L375.8 337.93 L376.3 337.93 L376.8 337.94 L377.3 337.94 L377.8 337.94 L378.3 337.95 L378.8 337.95 L379.3 337.96 L379.8 337.97 L380.3 337.97 L380.8 337.98 L381.3 337.99 L381.8 338.00 L382.3 338.01 L382.8 338.02 L383.3 338.03 L383.8 338.04 L384.3 338.05 L384.8 338.07 L385.3 338.08 L385.8 338.10 L386.3 338.11 L386.8 338.13 L387.3 338.15 L387.8 338.18 L388.3 338.20 L388.8 338.22 L389.3 338.25 L389.8 338.28 L390.3 338.31 L390.8 338.35 L391.3 338.39 L391.8 338.43 L392.3 338.47 L392.8 338.52 L393.3 338.57 L393.8 338.62 L394.3 338.68 L394.8 338.74 L395.3 338.81 L395.8 338.89 L396.3 338.97 L396.8 339.05 L397.3 339.14 L397.8 339.24 L398.3 339.35 L398.8 339.47 L399.3 339.59 L399.8 339.73 L400.3 339.87 L400.8 340.03 L401.3 340.19 L401.8 340.37 L402.3 340.56 L402.8 340.77 L403.3 340.99 L403.8 341.23 L404.3 341.49 L404.8 341.76 L405.3 342.06 L405.8 342.37 L406.3 342.71 L406.8 343.07 L407.3 343.45 L407.8 343.86 L408.3 344.30 L408.8 344.77 L409.3 345.26 L409.8 345.79 L410.3 346.35 L410.8 346.94 L411.3 347.57 L411.8 348.23 L412.3 348.93 L412.8 349.67 L413.3 350.45 L413.8 351.27 L414.3 352.13 L414.8 353.03 L415.3 353.96 L415.8 354.94 L416.3 355.96 L416.8 357.02 L417.3 358.11 L417.8 359.24 L418.3 360.40 L418.8 361.60 L419.3 362.83 L419.8 364.08 L420.3 365.36 L420.8 366.66 L421.3 367.97 L421.8 369.30 L422.3 370.64 L422.8 371.99 L423.3 373.34 L423.8 374.69 L424.3 376.03 L424.8 377.36 L425.3 378.68 L425.8 379.98 L426.3 381.26 L426.8 382.51 L427.3 383.74 L427.8 384.94 L428.3 386.11 L428.8 387.24 L429.3 388.34 L429.8 389.40 L430.3 390.42 L430.8 391.40 L431.3 392.34 L431.8 393.24 L432.3 394.10 L432.8 394.92 L433.3 395.71 L433.8 396.45 L434.3 397.15 L434.8 397.82 L435.3 398.45 L435.8 399.05 L436.3 399.61 L436.8 400.14 L437.3 400.64 L437.8 401.10 L438.3 401.54 L438.8 401.96 L439.3 402.34 L439.8 402.70 L440.3 403.04 L440.8 403.36 L441.3 403.65 L441.8 403.93 L442.3 404.19 L442.8 404.43 L443.3 404.65 L443.8 404.86 L444.3 405.05 L444.8 405.23 L445.3 405.40 L445.8 405.56 L446.3 405.70 L446.8 405.84 L447.3 405.96 L447.8 406.08 L448.3 406.19 L448.8 406.29 L449.3 406.38 L449.8 406.47 L450.3 406.55 L450.8 406.62 L451.3 406.69 L451.8 406.76 L452.3 406.82 L452.8 406.87 L453.3 406.92 L453.8 406.97 L454.3 407.01 L454.8 407.05 L455.3 407.09 L455.8 407.12 L456.3 407.16 L456.8 407.19 L457.3 407.21 L457.8 407.24 L458.3 407.26 L458.8 407.29 L459.3 407.31 L459.8 407.32 L460.3 407.34 L460.8 407.36 L461.3 407.37 L461.8 407.39 L462.3 407.40 L462.8 407.41 L463.3 407.42 L463.8 407.43 L464.3 407.44 L464.8 407.45 L465.3 407.46 L465.8 407.47 L466.3 407.47 L466.8 407.48 L467.3 407.49 L467.8 407.49 L468.3 407.50 L468.8 407.50 L469.3 407.51 L469.8 407.51 L470.3 407.51 L470.8 407.52 L471.3 407.52 L471.8 407.52 L472.3 407.53 L472.8 407.53 L473.3 407.53 L473.8 407.53 L474.3 407.53 L474.8 407.54 L475.3 407.54 L475.8 407.54 L476.3 407.54 L476.8 407.54 L477.3 407.54 L477.8 407.55 L478.3 407.55 L478.8 407.55 L479.3 407.55 L479.8 407.55 L480.3 407.55 L480.8 407.55 L481.3 407.55 L481.8 407.55 L482.3 407.55 L482.8 407.55 L483.3 407.55 L483.8 407.55 L484.3 407.55 L484.8 407.55 L485.3 407.56 L485.8 407.56 L486.1 407.56" class="c"/>
<line x1="366" y1="330.8" x2="366" y2="351" class="e"/>
<line x1="364" y1="330.8" x2="368" y2="330.8" class="e"/>
<line x1="364" y1="351" x2="368" y2="351" class="e"/>
<line x1="364.2" y1="335" x2="367.8" y2="335" class="e"/>
<line x1="364.2" y1="346" x2="367.8" y2="346" class="e"/>
<line x1="388.6" y1="329.7" x2="388.6" y2="342.9" class="e"/>
<line x1="386.6" y1="329.7" x2="390.6" y2="329.7" class="e"/>
<line x1="386.6" y1="342.9" x2="390.6" y2="342.9" class="e"/>
<line x1="405.7" y1="324.7" x2="405.7" y2="340" class="e"/>
<line x1="403.7" y1="324.7" x2="407.7" y2="324.7" class="e"/>
<line x1="403.7" y1="340" x2="407.7" y2="340" class="e"/>
<line x1="421.2" y1="359" x2="421.2" y2="386" class="e"/>
<line x1="419.2" y1="359" x2="423.2" y2="359" class="e"/>
<line x1="419.2" y1="386" x2="423.2" y2="386" class="e"/>
<line x1="419.4" y1="365" x2="423.0" y2="365" class="e"/>
<line x1="438.6" y1="379.4" x2="438.6" y2="433.4" class="e"/>
<line x1="436.6" y1="379.4" x2="440.6" y2="379.4" class="e"/>
<line x1="436.6" y1="433.4" x2="440.6" y2="433.4" class="e"/>
<line x1="436.8" y1="390.3" x2="440.40000000000003" y2="390.3" class="e"/>
<line x1="436.8" y1="424" x2="440.40000000000003" y2="424" class="e"/>
<line x1="454.1" y1="392" x2="454.1" y2="426.5" class="e"/>
<line x1="452.1" y1="392" x2="456.1" y2="392" class="e"/>
<line x1="452.1" y1="426.5" x2="456.1" y2="426.5" class="e"/>
<line x1="452.3" y1="397.2" x2="455.90000000000003" y2="397.2" class="e"/>
<line x1="452.3" y1="420" x2="455.90000000000003" y2="420" class="e"/>
<line x1="470.9" y1="376.4" x2="470.9" y2="440.7" class="e"/>
<line x1="468.9" y1="376.4" x2="472.9" y2="376.4" class="e"/>
<line x1="468.9" y1="440.7" x2="472.9" y2="440.7" class="e"/>
<line x1="469.09999999999997" y1="386" x2="472.7" y2="386" class="e"/>
<line x1="469.09999999999997" y1="426" x2="472.7" y2="426" class="e"/>
<line x1="486.1" y1="371.2" x2="486.1" y2="446.4" class="e"/>
<line x1="484.1" y1="371.2" x2="488.1" y2="371.2" class="e"/>
<line x1="484.1" y1="446.4" x2="488.1" y2="446.4" class="e"/>
<line x1="484.3" y1="373" x2="487.90000000000003" y2="373" class="e"/>
<line x1="484.3" y1="444.5" x2="487.90000000000003" y2="444.5" class="e"/>
<circle cx="366" cy="340.9" r="2.3" class="mf"/>
<circle cx="388.6" cy="337.5" r="2.3" class="mf"/>
<circle cx="405.7" cy="332.1" r="2.3" class="mf"/>
<circle cx="405.7" cy="337.2" r="2.3" class="mf"/>
<circle cx="421.2" cy="369.8" r="2.3" class="mf"/>
<ellipse cx="438.6" cy="398.9" rx="1.6" ry="2.0" class="mo"/>
<circle cx="438.6" cy="407.1" r="2.3" class="mf"/>
<circle cx="454.1" cy="408.8" r="2.3" class="mf"/>
<circle cx="470.9" cy="408.1" r="2.3" class="mf"/>
<circle cx="486.1" cy="408.5" r="2.3" class="mf"/>
<line x1="59.8" y1="471.4" x2="59.8" y2="572.5999999999999" class="a"/>
<line x1="59.199999999999996" y1="569.8" x2="199.2" y2="569.8" class="a"/>
<line x1="56.8" y1="569.80" x2="59.8" y2="569.80" class="a"/>
<text x="54.60" y="573.40" class="t" text-anchor="end">0</text>
<line x1="56.8" y1="553.40" x2="59.8" y2="553.40" class="a"/>
<text x="54.60" y="557.00" class="t" text-anchor="end">20</text>
<line x1="56.8" y1="537.00" x2="59.8" y2="537.00" class="a"/>
<text x="54.60" y="540.60" class="t" text-anchor="end">40</text>
<line x1="56.8" y1="520.60" x2="59.8" y2="520.60" class="a"/>
<text x="54.60" y="524.20" class="t" text-anchor="end">60</text>
<line x1="56.8" y1="504.20" x2="59.8" y2="504.20" class="a"/>
<text x="54.60" y="507.80" class="t" text-anchor="end">80</text>
<line x1="56.8" y1="487.80" x2="59.8" y2="487.80" class="a"/>
<text x="54.60" y="491.40" class="t" text-anchor="end">100</text>
<line x1="56.8" y1="471.40" x2="59.8" y2="471.40" class="a"/>
<text x="54.60" y="475.00" class="t" text-anchor="end">120</text>
<line x1="59.8" y1="569.8" x2="59.8" y2="572.5999999999999" class="a"/>
<text x="59.30" y="584.10" class="t" text-anchor="middle">0</text>
<line x1="94.4" y1="569.8" x2="94.4" y2="572.5999999999999" class="a"/>
<text x="93.90" y="584.10" class="t" text-anchor="middle">0.1</text>
<line x1="129.6" y1="569.8" x2="129.6" y2="572.5999999999999" class="a"/>
<text x="129.10" y="584.10" class="t" text-anchor="middle">1</text>
<line x1="164.5" y1="569.8" x2="164.5" y2="572.5999999999999" class="a"/>
<text x="164.00" y="584.10" class="t" text-anchor="middle">10</text>
<line x1="199.2" y1="569.8" x2="199.2" y2="572.5999999999999" class="a"/>
<text x="198.70" y="584.10" class="t" text-anchor="middle">100</text>
<path d="M59.8 485.62 L60.3 485.62 L60.8 485.63 L61.3 485.64 L61.8 485.64 L62.3 485.65 L62.8 485.66 L63.3 485.67 L63.8 485.68 L64.3 485.69 L64.8 485.69 L65.3 485.70 L65.8 485.72 L66.3 485.73 L66.8 485.74 L67.3 485.75 L67.8 485.76 L68.3 485.78 L68.8 485.79 L69.3 485.81 L69.8 485.82 L70.3 485.84 L70.8 485.86 L71.3 485.87 L71.8 485.89 L72.3 485.91 L72.8 485.93 L73.3 485.96 L73.8 485.98 L74.3 486.01 L74.8 486.03 L75.3 486.06 L75.8 486.09 L76.3 486.12 L76.8 486.15 L77.3 486.18 L77.8 486.22 L78.3 486.26 L78.8 486.29 L79.3 486.33 L79.8 486.38 L80.3 486.42 L80.8 486.47 L81.3 486.52 L81.8 486.57 L82.3 486.63 L82.8 486.68 L83.3 486.74 L83.8 486.81 L84.3 486.87 L84.8 486.94 L85.3 487.02 L85.8 487.09 L86.3 487.18 L86.8 487.26 L87.3 487.35 L87.8 487.44 L88.3 487.54 L88.8 487.64 L89.3 487.75 L89.8 487.86 L90.3 487.98 L90.8 488.11 L91.3 488.24 L91.8 488.37 L92.3 488.52 L92.8 488.67 L93.3 488.82 L93.8 488.99 L94.3 489.16 L94.8 489.34 L95.3 489.53 L95.8 489.72 L96.3 489.93 L96.8 490.14 L97.3 490.36 L97.8 490.60 L98.3 490.84 L98.8 491.10 L99.3 491.36 L99.8 491.64 L100.3 491.93 L100.8 492.23 L101.3 492.54 L101.8 492.87 L102.3 493.21 L102.8 493.56 L103.3 493.93 L103.8 494.31 L104.3 494.70 L104.8 495.11 L105.3 495.54 L105.8 495.98 L106.3 496.43 L106.8 496.90 L107.3 497.39 L107.8 497.90 L108.3 498.41 L108.8 498.95 L109.3 499.50 L109.8 500.07 L110.3 500.66 L110.8 501.26 L111.3 501.88 L111.8 502.51 L112.3 503.16 L112.8 503.83 L113.3 504.51 L113.8 505.20 L114.3 505.91 L114.8 506.64 L115.3 507.37 L115.8 508.12 L116.3 508.89 L116.8 509.66 L117.3 510.44 L117.8 511.24 L118.3 512.04 L118.8 512.85 L119.3 513.67 L119.8 514.50 L120.3 515.33 L120.8 516.16 L121.3 517.00 L121.8 517.84 L122.3 518.68 L122.8 519.52 L123.3 520.36 L123.8 521.20 L124.3 522.03 L124.8 522.86 L125.3 523.68 L125.8 524.50 L126.3 525.31 L126.8 526.11 L127.3 526.90 L127.8 527.69 L128.3 528.46 L128.8 529.22 L129.3 529.97 L129.8 530.70 L130.3 531.42 L130.8 532.13 L131.3 532.82 L131.8 533.50 L132.3 534.17 L132.8 534.81 L133.3 535.44 L133.8 536.06 L134.3 536.66 L134.8 537.24 L135.3 537.81 L135.8 538.36 L136.3 538.89 L136.8 539.41 L137.3 539.91 L137.8 540.39 L138.3 540.86 L138.8 541.31 L139.3 541.75 L139.8 542.17 L140.3 542.58 L140.8 542.97 L141.3 543.35 L141.8 543.72 L142.3 544.07 L142.8 544.40 L143.3 544.73 L143.8 545.04 L144.3 545.34 L144.8 545.62 L145.3 545.90 L145.8 546.16 L146.3 546.42 L146.8 546.66 L147.3 546.89 L147.8 547.11 L148.3 547.32 L148.8 547.53 L149.3 547.72 L149.8 547.91 L150.3 548.09 L150.8 548.26 L151.3 548.42 L151.8 548.58 L152.3 548.72 L152.8 548.87 L153.3 549.00 L153.8 549.13 L154.3 549.25 L154.8 549.37 L155.3 549.48 L155.8 549.59 L156.3 549.69 L156.8 549.79 L157.3 549.88 L157.8 549.97 L158.3 550.05 L158.8 550.13 L159.3 550.21 L159.8 550.28 L160.3 550.35 L160.8 550.42 L161.3 550.48 L161.8 550.54 L162.3 550.60 L162.8 550.65 L163.3 550.71 L163.8 550.75 L164.3 550.80 L164.8 550.85 L165.3 550.89 L165.8 550.93 L166.3 550.97 L166.8 551.00 L167.3 551.04 L167.8 551.07 L168.3 551.10 L168.8 551.13 L169.3 551.16 L169.8 551.19 L170.3 551.21 L170.8 551.24 L171.3 551.26 L171.8 551.29 L172.3 551.31 L172.8 551.33 L173.3 551.35 L173.8 551.36 L174.3 551.38 L174.8 551.40 L175.3 551.41 L175.8 551.43 L176.3 551.44 L176.8 551.46 L177.3 551.47 L177.8 551.48 L178.3 551.49 L178.8 551.50 L179.3 551.51 L179.8 551.52 L180.3 551.53 L180.8 551.54 L181.3 551.55 L181.8 551.56 L182.3 551.57 L182.8 551.57 L183.3 551.58 L183.8 551.59 L184.3 551.59 L184.8 551.60 L185.3 551.60 L185.6 551.61" class="c" style="stroke-width:2.0"/>
<line x1="81.1" y1="484.2" x2="81.1" y2="489.2" class="e"/>
<line x1="79.1" y1="484.2" x2="83.1" y2="484.2" class="e"/>
<line x1="79.1" y1="489.2" x2="83.1" y2="489.2" class="e"/>
<line x1="99.2" y1="485.4" x2="99.2" y2="491.5" class="e"/>
<line x1="97.2" y1="485.4" x2="101.2" y2="485.4" class="e"/>
<line x1="97.2" y1="491.5" x2="101.2" y2="491.5" class="e"/>
<line x1="134.2" y1="533.1" x2="134.2" y2="541.5" class="e"/>
<line x1="132.2" y1="533.1" x2="136.2" y2="533.1" class="e"/>
<line x1="132.2" y1="541.5" x2="136.2" y2="541.5" class="e"/>
<line x1="151.2" y1="533.1" x2="151.2" y2="557.7" class="e"/>
<line x1="149.2" y1="533.1" x2="153.2" y2="533.1" class="e"/>
<line x1="149.2" y1="557.7" x2="153.2" y2="557.7" class="e"/>
<line x1="168.9" y1="547.7" x2="168.9" y2="554.6" class="e"/>
<line x1="166.9" y1="547.7" x2="170.9" y2="547.7" class="e"/>
<line x1="166.9" y1="554.6" x2="170.9" y2="554.6" class="e"/>
<line x1="185.8" y1="548.5" x2="185.8" y2="564.2" class="e"/>
<line x1="183.8" y1="548.5" x2="187.8" y2="548.5" class="e"/>
<line x1="183.8" y1="564.2" x2="187.8" y2="564.2" class="e"/>
<rect x="79.70" y="485.10" width="2.8" height="3" class="mf"/>
<rect x="97.80" y="487.50" width="2.8" height="3" class="mf"/>
<rect x="114.80" y="509.30" width="2.8" height="3" class="mf"/>
<rect x="132.80" y="535.00" width="2.8" height="3" class="mf"/>
<rect x="149.80" y="543.90" width="2.8" height="3" class="mf"/>
<rect x="167.50" y="550.80" width="2.8" height="3" class="mf"/>
<rect x="184.40" y="551.60" width="2.8" height="3" class="mf"/>
<line x1="214" y1="467.2" x2="214" y2="573.1999999999999" class="a"/>
<line x1="213.4" y1="570.4" x2="338.5" y2="570.4" class="a"/>
<line x1="211" y1="570.40" x2="214" y2="570.40" class="a"/>
<line x1="211" y1="553.20" x2="214" y2="553.20" class="a"/>
<line x1="211" y1="536.00" x2="214" y2="536.00" class="a"/>
<line x1="211" y1="518.80" x2="214" y2="518.80" class="a"/>
<line x1="211" y1="501.60" x2="214" y2="501.60" class="a"/>
<line x1="211" y1="484.40" x2="214" y2="484.40" class="a"/>
<line x1="211" y1="467.20" x2="214" y2="467.20" class="a"/>
<line x1="214" y1="570.4" x2="214" y2="573.1999999999999" class="a"/>
<text x="213.50" y="584.20" class="t" text-anchor="middle">0</text>
<line x1="248.5" y1="570.4" x2="248.5" y2="573.1999999999999" class="a"/>
<text x="248.00" y="584.20" class="t" text-anchor="middle">0.01</text>
<line x1="283.1" y1="570.4" x2="283.1" y2="573.1999999999999" class="a"/>
<text x="282.60" y="584.20" class="t" text-anchor="middle">0.1</text>
<line x1="317.7" y1="570.4" x2="317.7" y2="573.1999999999999" class="a"/>
<text x="317.20" y="584.20" class="t" text-anchor="middle">1</text>
<path d="M214.0 482.93 L214.5 482.97 L215.0 483.01 L215.5 483.06 L216.0 483.11 L216.5 483.16 L217.0 483.21 L217.5 483.27 L218.0 483.33 L218.5 483.39 L219.0 483.45 L219.5 483.52 L220.0 483.59 L220.5 483.66 L221.0 483.73 L221.5 483.81 L222.0 483.90 L222.5 483.98 L223.0 484.07 L223.5 484.17 L224.0 484.26 L224.5 484.37 L225.0 484.48 L225.5 484.59 L226.0 484.70 L226.5 484.83 L227.0 484.95 L227.5 485.09 L228.0 485.23 L228.5 485.37 L229.0 485.52 L229.5 485.68 L230.0 485.84 L230.5 486.02 L231.0 486.20 L231.5 486.38 L232.0 486.58 L232.5 486.78 L233.0 486.99 L233.5 487.21 L234.0 487.44 L234.5 487.67 L235.0 487.92 L235.5 488.18 L236.0 488.44 L236.5 488.72 L237.0 489.01 L237.5 489.31 L238.0 489.62 L238.5 489.94 L239.0 490.28 L239.5 490.62 L240.0 490.98 L240.5 491.36 L241.0 491.74 L241.5 492.14 L242.0 492.55 L242.5 492.98 L243.0 493.42 L243.5 493.88 L244.0 494.35 L244.5 494.84 L245.0 495.34 L245.5 495.86 L246.0 496.39 L246.5 496.94 L247.0 497.51 L247.5 498.09 L248.0 498.68 L248.5 499.30 L249.0 499.93 L249.5 500.57 L250.0 501.23 L250.5 501.91 L251.0 502.60 L251.5 503.30 L252.0 504.02 L252.5 504.76 L253.0 505.51 L253.5 506.27 L254.0 507.05 L254.5 507.84 L255.0 508.64 L255.5 509.46 L256.0 510.28 L256.5 511.12 L257.0 511.96 L257.5 512.82 L258.0 513.68 L258.5 514.55 L259.0 515.43 L259.5 516.31 L260.0 517.20 L260.5 518.09 L261.0 518.98 L261.5 519.88 L262.0 520.77 L262.5 521.67 L263.0 522.57 L263.5 523.46 L264.0 524.35 L264.5 525.24 L265.0 526.12 L265.5 527.00 L266.0 527.87 L266.5 528.73 L267.0 529.59 L267.5 530.44 L268.0 531.28 L268.5 532.10 L269.0 532.92 L269.5 533.72 L270.0 534.52 L270.5 535.29 L271.0 536.06 L271.5 536.81 L272.0 537.55 L272.5 538.28 L273.0 538.98 L273.5 539.68 L274.0 540.36 L274.5 541.02 L275.0 541.67 L275.5 542.30 L276.0 542.91 L276.5 543.51 L277.0 544.10 L277.5 544.67 L278.0 545.22 L278.5 545.75 L279.0 546.27 L279.5 546.78 L280.0 547.27 L280.5 547.74 L281.0 548.20 L281.5 548.65 L282.0 549.08 L282.5 549.49 L283.0 549.90 L283.5 550.28 L284.0 550.66 L284.5 551.02 L285.0 551.37 L285.5 551.71 L286.0 552.03 L286.5 552.35 L287.0 552.65 L287.5 552.94 L288.0 553.22 L288.5 553.49 L289.0 553.74 L289.5 553.99 L290.0 554.23 L290.5 554.46 L291.0 554.68 L291.5 554.89 L292.0 555.10 L292.5 555.29 L293.0 555.48 L293.5 555.66 L294.0 555.83 L294.5 556.00 L295.0 556.16 L295.5 556.31 L296.0 556.46 L296.5 556.60 L297.0 556.73 L297.5 556.86 L298.0 556.98 L298.5 557.10 L299.0 557.21 L299.5 557.32 L300.0 557.43 L300.5 557.53 L301.0 557.62 L301.5 557.71 L302.0 557.80 L302.5 557.88 L303.0 557.96 L303.5 558.04 L304.0 558.11 L304.5 558.18 L305.0 558.25 L305.5 558.31 L306.0 558.37 L306.5 558.43 L307.0 558.49 L307.5 558.54 L308.0 558.59 L308.5 558.64 L309.0 558.69 L309.5 558.73 L310.0 558.77 L310.5 558.81 L311.0 558.85 L311.5 558.89 L312.0 558.93 L312.5 558.96 L313.0 558.99 L313.5 559.02 L314.0 559.05 L314.5 559.08 L315.0 559.11 L315.5 559.14 L316.0 559.16 L316.5 559.18 L317.0 559.21 L317.5 559.23 L318.0 559.25 L318.5 559.27 L319.0 559.29 L319.5 559.31 L320.0 559.32 L320.5 559.34 L320.8 559.35" class="c"/>
<path d="M214.0 483.11 L214.5 487.34 L215.0 492.57 L215.5 498.76 L216.0 505.74 L216.5 513.17 L217.0 520.60 L217.5 527.61 L218.0 533.84 L218.5 539.11 L219.0 543.37 L219.5 546.71 L220.0 549.24 L220.5 551.13 L221.0 552.51 L221.5 553.51 L222.0 554.23 L222.5 554.74 L223.0 555.10 L223.5 555.36 L224.0 555.55 L224.5 555.67 L225.0 555.77 L225.5 555.83 L226.0 555.87 L226.5 555.91 L227.0 555.93 L227.5 555.94 L228.0 555.96 L228.5 555.96 L229.0 555.97 L229.5 555.97 L230.0 555.98 L230.5 555.98 L231.0 555.98 L231.5 555.98 L232.0 555.98 L232.5 555.98 L233.0 555.98 L233.5 555.98 L234.0 555.98 L234.5 555.98 L235.0 555.98 L235.5 555.98 L236.0 555.98 L236.5 555.98 L237.0 555.98 L237.5 555.98 L238.0 555.98 L238.5 555.98 L239.0 555.98 L239.5 555.98 L240.0 555.98 L240.5 555.98 L241.0 555.98 L241.5 555.98 L242.0 555.98 L242.5 555.98 L243.0 555.98 L243.5 555.98 L244.0 555.98 L244.5 555.98 L245.0 555.98 L245.5 555.98 L246.0 555.98 L246.5 555.98 L247.0 555.98 L247.5 555.98 L248.0 555.98 L248.5 555.98 L249.0 555.98 L249.5 555.98 L250.0 555.98 L250.5 555.98 L251.0 555.98 L251.5 555.98 L252.0 555.98 L252.5 555.98 L253.0 555.98 L253.5 555.98 L254.0 555.98 L254.5 555.98 L255.0 555.98 L255.5 555.98 L256.0 555.98 L256.5 555.98 L257.0 555.98 L257.5 555.98 L258.0 555.98 L258.5 555.98 L259.0 555.98 L259.5 555.98 L260.0 555.98 L260.5 555.98 L261.0 555.98 L261.5 555.98 L262.0 555.98 L262.5 555.98 L263.0 555.98 L263.5 555.98 L264.0 555.98 L264.5 555.98 L265.0 555.98 L265.5 555.98 L266.0 555.98 L266.5 555.98 L267.0 555.98 L267.5 555.98 L268.0 555.98 L268.5 555.98 L269.0 555.98 L269.5 555.98 L270.0 555.98 L270.5 555.98 L271.0 555.98 L271.5 555.98 L272.0 555.98 L272.5 555.98 L273.0 555.98 L273.5 555.98 L274.0 555.98 L274.5 555.98 L275.0 555.98 L275.5 555.98 L276.0 555.98 L276.5 555.98 L277.0 555.98 L277.5 555.98 L278.0 555.98 L278.5 555.98 L279.0 555.98 L279.5 555.98 L280.0 555.98 L280.5 555.98 L281.0 555.98 L281.5 555.98 L282.0 555.98 L282.5 555.98 L283.0 555.98 L283.5 555.98 L284.0 555.98 L284.5 555.98 L285.0 555.98 L285.5 555.98 L286.0 555.98 L286.5 555.98 L287.0 555.98 L287.5 555.98 L288.0 555.98 L288.5 555.98 L289.0 555.98 L289.5 555.98 L290.0 555.98 L290.5 555.98 L291.0 555.98 L291.5 555.98 L292.0 555.98 L292.5 555.98 L293.0 555.98 L293.5 555.98 L294.0 555.98 L294.5 555.98 L295.0 555.98 L295.5 555.98 L296.0 555.98 L296.5 555.98 L297.0 555.98 L297.5 555.98 L298.0 555.98 L298.5 555.98 L299.0 555.98 L299.5 555.98 L300.0 555.98 L300.5 555.98 L301.0 555.98 L301.5 555.98 L302.0 555.98 L302.5 555.98 L303.0 555.98 L303.5 555.98 L304.0 555.98 L304.5 555.98 L305.0 555.98 L305.5 555.98 L306.0 555.98 L306.5 555.98 L307.0 555.98 L307.5 555.98 L308.0 555.98 L308.5 555.98 L309.0 555.98 L309.5 555.98 L310.0 555.98 L310.5 555.98 L311.0 555.98 L311.5 555.98 L312.0 555.98 L312.5 555.98 L313.0 555.98 L313.5 555.98 L314.0 555.98 L314.5 555.98 L315.0 555.98 L315.5 555.98 L316.0 555.98 L316.5 555.98 L317.0 555.98 L317.5 555.98 L318.0 555.98 L318.5 555.98 L319.0 555.98 L319.5 555.98 L320.0 555.98 L320.5 555.98 L320.8 555.98" class="c"/>
<line x1="217.4" y1="496.9" x2="217.4" y2="520" class="e"/>
<line x1="215.4" y1="496.9" x2="219.4" y2="496.9" class="e"/>
<line x1="215.4" y1="520" x2="219.4" y2="520" class="e"/>
<line x1="235.4" y1="533" x2="235.4" y2="581.2" class="e"/>
<line x1="233.4" y1="533" x2="237.4" y2="533" class="e"/>
<line x1="233.4" y1="581.2" x2="237.4" y2="581.2" class="e"/>
<line x1="251.5" y1="532.3" x2="251.5" y2="575" class="e"/>
<line x1="249.5" y1="532.3" x2="253.5" y2="532.3" class="e"/>
<line x1="249.5" y1="575" x2="253.5" y2="575" class="e"/>
<line x1="252" y1="504.3" x2="252" y2="509" class="e"/>
<line x1="250" y1="504.3" x2="254" y2="504.3" class="e"/>
<line x1="250" y1="509" x2="254" y2="509" class="e"/>
<line x1="286.2" y1="543.8" x2="286.2" y2="560" class="e"/>
<line x1="284.2" y1="543.8" x2="288.2" y2="543.8" class="e"/>
<line x1="284.2" y1="560" x2="288.2" y2="560" class="e"/>
<line x1="304.6" y1="553" x2="304.6" y2="563" class="e"/>
<line x1="302.6" y1="553" x2="306.6" y2="553" class="e"/>
<line x1="302.6" y1="563" x2="306.6" y2="563" class="e"/>
<line x1="320.8" y1="553" x2="320.8" y2="565.8" class="e"/>
<line x1="318.8" y1="553" x2="322.8" y2="553" class="e"/>
<line x1="318.8" y1="565.8" x2="322.8" y2="565.8" class="e"/>
<rect x="211.30" y="482.00" width="4.2" height="4.2" class="mf"/>
<rect x="215.20" y="482.30" width="3.6" height="3.6" class="mo"/>
<rect x="233.10" y="485.70" width="3.6" height="3.6" class="mo"/>
<rect x="250.20" y="505.60" width="3.6" height="3.6" class="mo"/>
<rect x="215.30" y="511.60" width="4.2" height="4.2" class="mf"/>
<rect x="233.30" y="554.40" width="4.2" height="4.2" class="mf"/>
<rect x="249.40" y="552.10" width="4.2" height="4.2" class="mf"/>
<rect x="268.70" y="532.80" width="3.6" height="3.6" class="mo"/>
<rect x="267.40" y="545.20" width="4.2" height="4.2" class="mf"/>
<rect x="284.40" y="549.70" width="3.6" height="3.6" class="mo"/>
<rect x="284.10" y="554.00" width="4.2" height="4.2" class="mf"/>
<rect x="302.80" y="554.30" width="3.6" height="3.6" class="mo"/>
<rect x="302.50" y="558.60" width="4.2" height="4.2" class="mf"/>
<rect x="319.00" y="554.30" width="3.6" height="3.6" class="mo"/>
<rect x="318.70" y="558.60" width="4.2" height="4.2" class="mf"/>
<line x1="359.8" y1="473.6" x2="359.8" y2="571.8" class="a"/>
<line x1="359.2" y1="569" x2="495.9" y2="569" class="a"/>
<line x1="356.8" y1="569.00" x2="359.8" y2="569.00" class="a"/>
<line x1="356.8" y1="553.10" x2="359.8" y2="553.10" class="a"/>
<line x1="356.8" y1="537.20" x2="359.8" y2="537.20" class="a"/>
<line x1="356.8" y1="521.30" x2="359.8" y2="521.30" class="a"/>
<line x1="356.8" y1="505.40" x2="359.8" y2="505.40" class="a"/>
<line x1="356.8" y1="489.50" x2="359.8" y2="489.50" class="a"/>
<line x1="356.8" y1="473.60" x2="359.8" y2="473.60" class="a"/>
<line x1="359.8" y1="569" x2="359.8" y2="571.8" class="a"/>
<text x="359.30" y="583.60" class="t" text-anchor="middle">0</text>
<line x1="393.9" y1="569" x2="393.9" y2="571.8" class="a"/>
<text x="393.40" y="583.60" class="t" text-anchor="middle">0.01</text>
<line x1="427.9" y1="569" x2="427.9" y2="571.8" class="a"/>
<text x="427.40" y="583.60" class="t" text-anchor="middle">0.1</text>
<line x1="461.9" y1="569" x2="461.9" y2="571.8" class="a"/>
<text x="461.40" y="583.60" class="t" text-anchor="middle">1</text>
<line x1="495.9" y1="569" x2="495.9" y2="571.8" class="a"/>
<text x="495.40" y="583.60" class="t" text-anchor="middle">10</text>
<path d="M359.8 488.73 L360.3 488.73 L360.8 488.73 L361.3 488.73 L361.8 488.73 L362.3 488.73 L362.8 488.73 L363.3 488.73 L363.8 488.73 L364.3 488.73 L364.8 488.73 L365.3 488.73 L365.8 488.73 L366.3 488.73 L366.8 488.73 L367.3 488.73 L367.8 488.73 L368.3 488.73 L368.8 488.73 L369.3 488.73 L369.8 488.73 L370.3 488.73 L370.8 488.73 L371.3 488.73 L371.8 488.73 L372.3 488.73 L372.8 488.73 L373.3 488.73 L373.8 488.74 L374.3 488.74 L374.8 488.74 L375.3 488.74 L375.8 488.74 L376.3 488.74 L376.8 488.74 L377.3 488.74 L377.8 488.74 L378.3 488.74 L378.8 488.74 L379.3 488.74 L379.8 488.74 L380.3 488.74 L380.8 488.75 L381.3 488.75 L381.8 488.75 L382.3 488.75 L382.8 488.75 L383.3 488.75 L383.8 488.75 L384.3 488.75 L384.8 488.76 L385.3 488.76 L385.8 488.76 L386.3 488.76 L386.8 488.76 L387.3 488.77 L387.8 488.77 L388.3 488.77 L388.8 488.78 L389.3 488.78 L389.8 488.78 L390.3 488.79 L390.8 488.79 L391.3 488.79 L391.8 488.80 L392.3 488.80 L392.8 488.81 L393.3 488.81 L393.8 488.82 L394.3 488.82 L394.8 488.83 L395.3 488.84 L395.8 488.84 L396.3 488.85 L396.8 488.86 L397.3 488.87 L397.8 488.88 L398.3 488.89 L398.8 488.90 L399.3 488.91 L399.8 488.92 L400.3 488.93 L400.8 488.95 L401.3 488.96 L401.8 488.97 L402.3 488.99 L402.8 489.01 L403.3 489.03 L403.8 489.05 L404.3 489.07 L404.8 489.09 L405.3 489.11 L405.8 489.14 L406.3 489.16 L406.8 489.19 L407.3 489.22 L407.8 489.25 L408.3 489.29 L408.8 489.33 L409.3 489.36 L409.8 489.41 L410.3 489.45 L410.8 489.50 L411.3 489.55 L411.8 489.60 L412.3 489.65 L412.8 489.71 L413.3 489.78 L413.8 489.85 L414.3 489.92 L414.8 489.99 L415.3 490.07 L415.8 490.16 L416.3 490.25 L416.8 490.35 L417.3 490.45 L417.8 490.56 L418.3 490.68 L418.8 490.80 L419.3 490.93 L419.8 491.07 L420.3 491.22 L420.8 491.38 L421.3 491.54 L421.8 491.72 L422.3 491.90 L422.8 492.10 L423.3 492.31 L423.8 492.53 L424.3 492.76 L424.8 493.01 L425.3 493.26 L425.8 493.54 L426.3 493.83 L426.8 494.13 L427.3 494.45 L427.8 494.79 L428.3 495.14 L428.8 495.51 L429.3 495.90 L429.8 496.31 L430.3 496.74 L430.8 497.20 L431.3 497.67 L431.8 498.16 L432.3 498.67 L432.8 499.21 L433.3 499.77 L433.8 500.35 L434.3 500.95 L434.8 501.58 L435.3 502.23 L435.8 502.90 L436.3 503.60 L436.8 504.32 L437.3 505.06 L437.8 505.82 L438.3 506.60 L438.8 507.40 L439.3 508.22 L439.8 509.06 L440.3 509.91 L440.8 510.78 L441.3 511.66 L441.8 512.56 L442.3 513.46 L442.8 514.38 L443.3 515.30 L443.8 516.23 L444.3 517.17 L444.8 518.10 L445.3 519.03 L445.8 519.97 L446.3 520.90 L446.8 521.82 L447.3 522.74 L447.8 523.65 L448.3 524.54 L448.8 525.43 L449.3 526.30 L449.8 527.15 L450.3 527.99 L450.8 528.81 L451.3 529.62 L451.8 530.40 L452.3 531.16 L452.8 531.91 L453.3 532.62 L453.8 533.32 L454.3 534.00 L454.8 534.65 L455.3 535.28 L455.8 535.89 L456.3 536.47 L456.8 537.03 L457.3 537.57 L457.8 538.09 L458.3 538.58 L458.8 539.06 L459.3 539.51 L459.8 539.94 L460.3 540.35 L460.8 540.75 L461.3 541.12 L461.8 541.48 L462.3 541.82 L462.8 542.14 L463.3 542.44 L463.8 542.73 L464.3 543.01 L464.8 543.27 L465.3 543.52 L465.8 543.75 L466.3 543.97 L466.8 544.18 L467.3 544.38 L467.8 544.56 L468.3 544.74 L468.8 544.91 L469.3 545.06 L469.8 545.21 L470.3 545.35 L470.8 545.48 L471.3 545.61 L471.8 545.73 L472.3 545.84 L472.8 545.94 L473.3 546.04 L473.8 546.13 L474.3 546.22 L474.8 546.30 L475.3 546.38 L475.8 546.45 L476.3 546.52 L476.8 546.58 L477.3 546.64 L477.8 546.70 L478.3 546.75 L478.8 546.80 L479.3 546.85 L479.8 546.89 L480.3 546.93 L480.8 546.97 L481.3 547.01 L481.8 547.04 L482.3 547.08 L482.8 547.11 L483.1 547.12" class="c"/>
<path d="M359.8 489.71 L360.3 489.71 L360.8 489.71 L361.3 489.71 L361.8 489.71 L362.3 489.71 L362.8 489.71 L363.3 489.71 L363.8 489.71 L364.3 489.71 L364.8 489.71 L365.3 489.71 L365.8 489.72 L366.3 489.72 L366.8 489.72 L367.3 489.72 L367.8 489.72 L368.3 489.72 L368.8 489.72 L369.3 489.72 L369.8 489.72 L370.3 489.72 L370.8 489.73 L371.3 489.73 L371.8 489.73 L372.3 489.73 L372.8 489.73 L373.3 489.73 L373.8 489.74 L374.3 489.74 L374.8 489.74 L375.3 489.74 L375.8 489.74 L376.3 489.75 L376.8 489.75 L377.3 489.75 L377.8 489.76 L378.3 489.76 L378.8 489.76 L379.3 489.77 L379.8 489.77 L380.3 489.77 L380.8 489.78 L381.3 489.78 L381.8 489.79 L382.3 489.79 L382.8 489.80 L383.3 489.81 L383.8 489.81 L384.3 489.82 L384.8 489.83 L385.3 489.84 L385.8 489.85 L386.3 489.86 L386.8 489.86 L387.3 489.88 L387.8 489.89 L388.3 489.90 L388.8 489.91 L389.3 489.93 L389.8 489.94 L390.3 489.96 L390.8 489.97 L391.3 489.99 L391.8 490.01 L392.3 490.03 L392.8 490.05 L393.3 490.07 L393.8 490.10 L394.3 490.12 L394.8 490.15 L395.3 490.18 L395.8 490.21 L396.3 490.24 L396.8 490.28 L397.3 490.32 L397.8 490.35 L398.3 490.40 L398.8 490.44 L399.3 490.49 L399.8 490.54 L400.3 490.60 L400.8 490.65 L401.3 490.72 L401.8 490.78 L402.3 490.85 L402.8 490.93 L403.3 491.00 L403.8 491.09 L404.3 491.18 L404.8 491.27 L405.3 491.37 L405.8 491.48 L406.3 491.59 L406.8 491.71 L407.3 491.84 L407.8 491.98 L408.3 492.12 L408.8 492.28 L409.3 492.44 L409.8 492.61 L410.3 492.79 L410.8 492.98 L411.3 493.19 L411.8 493.40 L412.3 493.63 L412.8 493.87 L413.3 494.12 L413.8 494.39 L414.3 494.68 L414.8 494.97 L415.3 495.29 L415.8 495.62 L416.3 495.97 L416.8 496.33 L417.3 496.72 L417.8 497.12 L418.3 497.55 L418.8 497.99 L419.3 498.45 L419.8 498.94 L420.3 499.44 L420.8 499.97 L421.3 500.52 L421.8 501.10 L422.3 501.69 L422.8 502.31 L423.3 502.95 L423.8 503.61 L424.3 504.30 L424.8 505.00 L425.3 505.73 L425.8 506.48 L426.3 507.25 L426.8 508.03 L427.3 508.84 L427.8 509.66 L428.3 510.50 L428.8 511.35 L429.3 512.22 L429.8 513.10 L430.3 513.99 L430.8 514.88 L431.3 515.79 L431.8 516.70 L432.3 517.61 L432.8 518.52 L433.3 519.43 L433.8 520.34 L434.3 521.25 L434.8 522.15 L435.3 523.04 L435.8 523.92 L436.3 524.79 L436.8 525.65 L437.3 526.49 L437.8 527.32 L438.3 528.13 L438.8 528.92 L439.3 529.70 L439.8 530.45 L440.3 531.19 L440.8 531.90 L441.3 532.59 L441.8 533.26 L442.3 533.91 L442.8 534.53 L443.3 535.14 L443.8 535.72 L444.3 536.28 L444.8 536.81 L445.3 537.32 L445.8 537.82 L446.3 538.29 L446.8 538.74 L447.3 539.17 L447.8 539.58 L448.3 539.97 L448.8 540.34 L449.3 540.69 L449.8 541.03 L450.3 541.35 L450.8 541.65 L451.3 541.94 L451.8 542.21 L452.3 542.47 L452.8 542.72 L453.3 542.95 L453.8 543.17 L454.3 543.38 L454.8 543.57 L455.3 543.76 L455.8 543.93 L456.3 544.10 L456.8 544.25 L457.3 544.40 L457.8 544.54 L458.3 544.67 L458.8 544.79 L459.3 544.91 L459.8 545.02 L460.3 545.12 L460.8 545.22 L461.3 545.31 L461.8 545.39 L462.3 545.47 L462.8 545.55 L463.3 545.62 L463.8 545.69 L464.3 545.75 L464.8 545.81 L465.3 545.87 L465.8 545.92 L466.3 545.97 L466.8 546.01 L467.3 546.06 L467.8 546.10 L468.3 546.14 L468.8 546.17 L469.3 546.21 L469.8 546.24 L470.3 546.27 L470.8 546.29 L471.3 546.32 L471.8 546.35 L472.3 546.37 L472.8 546.39 L473.3 546.41 L473.8 546.43 L474.3 546.45 L474.8 546.46 L475.3 546.48 L475.8 546.50 L476.3 546.51 L476.8 546.52 L477.3 546.53 L477.8 546.55 L478.3 546.56 L478.8 546.57 L479.3 546.58 L479.8 546.59 L480.3 546.59 L480.8 546.60 L481.3 546.61 L481.8 546.62 L482.3 546.62 L482.8 546.63 L483.1 546.63" class="c"/>
<line x1="380.8" y1="487" x2="380.8" y2="495.5" class="e"/>
<line x1="378.8" y1="487" x2="382.8" y2="487" class="e"/>
<line x1="378.8" y1="495.5" x2="382.8" y2="495.5" class="e"/>
<line x1="415.2" y1="486.1" x2="415.2" y2="493" class="e"/>
<line x1="413.2" y1="486.1" x2="417.2" y2="486.1" class="e"/>
<line x1="413.2" y1="493" x2="417.2" y2="493" class="e"/>
<line x1="433.1" y1="494.6" x2="433.1" y2="503.1" class="e"/>
<line x1="431.1" y1="494.6" x2="435.1" y2="494.6" class="e"/>
<line x1="431.1" y1="503.1" x2="435.1" y2="503.1" class="e"/>
<line x1="449.2" y1="539.5" x2="449.2" y2="545.1" class="e"/>
<line x1="447.2" y1="539.5" x2="451.2" y2="539.5" class="e"/>
<line x1="447.2" y1="545.1" x2="451.2" y2="545.1" class="e"/>
<line x1="466.9" y1="540.8" x2="466.9" y2="550.3" class="e"/>
<line x1="464.9" y1="540.8" x2="468.9" y2="540.8" class="e"/>
<line x1="464.9" y1="550.3" x2="468.9" y2="550.3" class="e"/>
<line x1="483.1" y1="543.8" x2="483.1" y2="552.3" class="e"/>
<line x1="481.1" y1="543.8" x2="485.1" y2="543.8" class="e"/>
<line x1="481.1" y1="552.3" x2="485.1" y2="552.3" class="e"/>
<circle cx="360" cy="489.6" r="2.3" class="mf"/>
<rect x="379.00" y="487.40" width="3.6" height="3.6" class="mo"/>
<circle cx="380.8" cy="493.2" r="2.3" class="mf"/>
<circle cx="398.8" cy="489.6" r="2.3" class="mf"/>
<rect x="413.40" y="487.80" width="3.6" height="3.6" class="mo"/>
<rect x="431.30" y="497.10" width="3.6" height="3.6" class="mo"/>
<rect x="431.70" y="517.00" width="2.8" height="3" class="mf"/>
<rect x="447.40" y="524.80" width="3.6" height="3.6" class="mo"/>
<circle cx="449.2" cy="542.3" r="2.3" class="mf"/>
<circle cx="466.9" cy="545.1" r="2.3" class="mf"/>
<circle cx="483.1" cy="547.7" r="2.3" class="mf"/>
</svg>
</body></html>
